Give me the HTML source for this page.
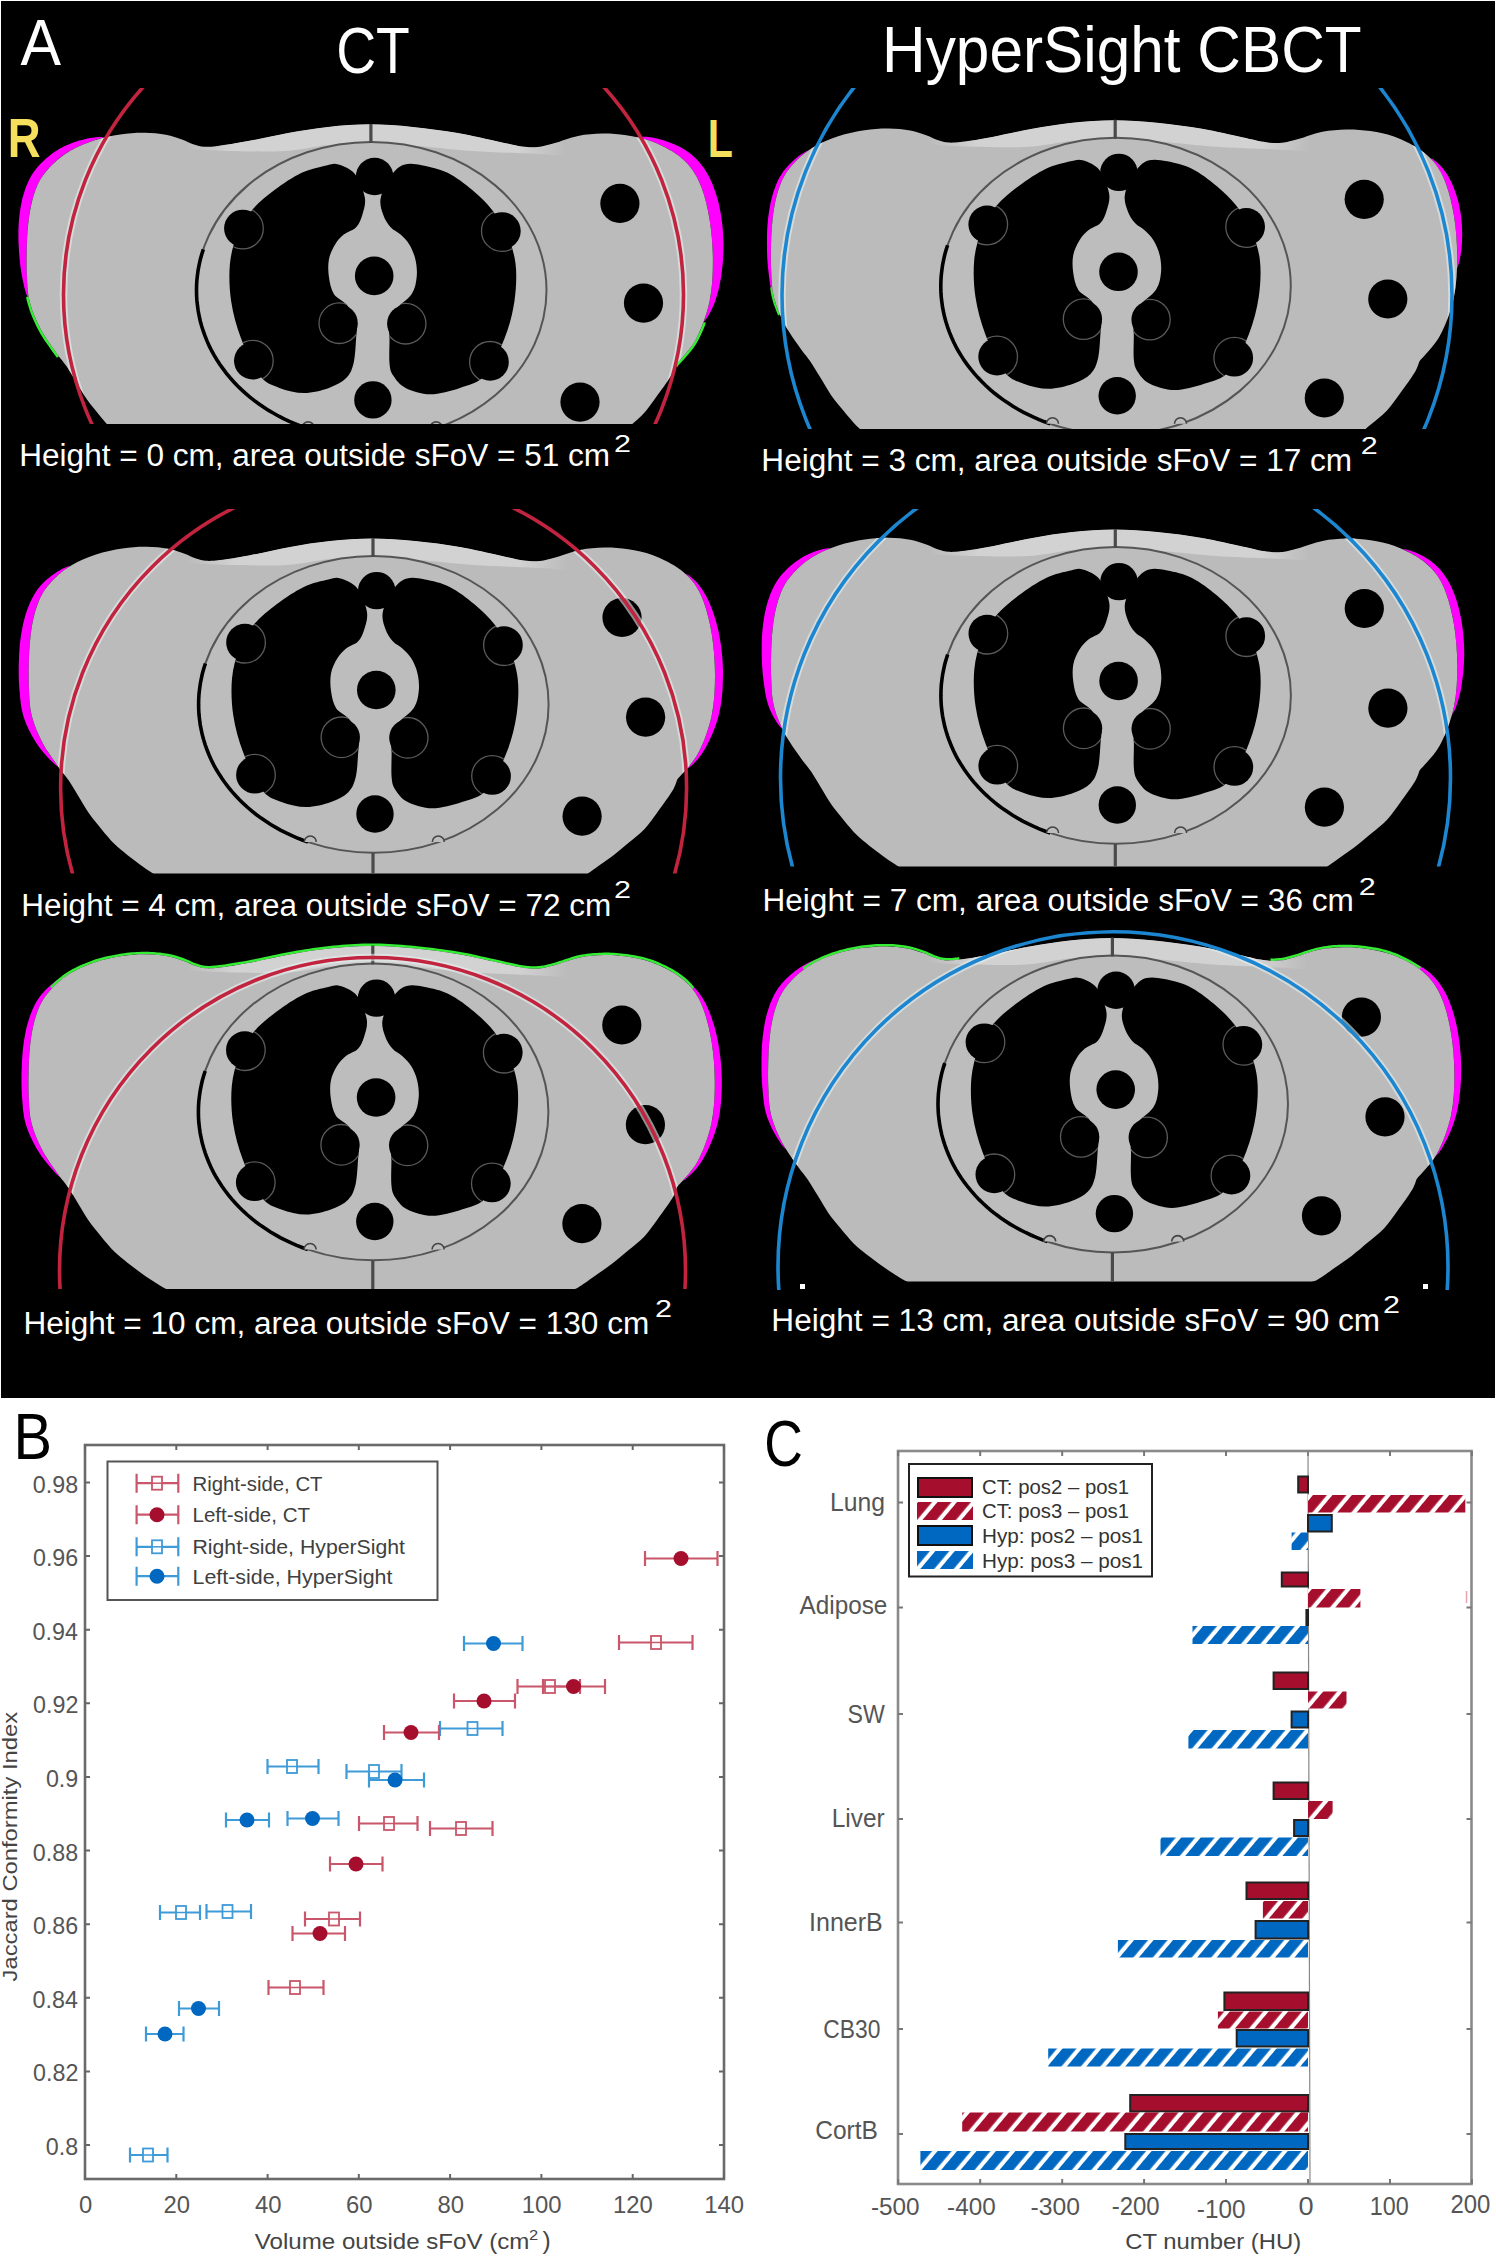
<!DOCTYPE html>
<html><head><meta charset="utf-8"><style>
html,body{margin:0;padding:0;background:#fff;width:1496px;height:2256px;overflow:hidden}
svg{position:absolute;left:0;top:0;display:block}
text{font-family:"Liberation Sans",sans-serif}
</style></head><body>
<svg width="1496" height="2256" viewBox="0 0 1496 2256">
<defs><linearGradient id="bandg" gradientUnits="userSpaceOnUse" x1="-190" y1="0" x2="192" y2="0"><stop offset="0" stop-color="#d2d2d2" stop-opacity="0"/><stop offset="0.13" stop-color="#d2d2d2" stop-opacity="1"/><stop offset="0.87" stop-color="#d2d2d2" stop-opacity="1"/><stop offset="1" stop-color="#d2d2d2" stop-opacity="0"/></linearGradient><path id="bodyp" d="M-315.3,80.5 C-318.3,76.1 -328.2,63.1 -333.1,54 C-338,44.9 -342.1,35 -344.5,26 C-346.9,17 -346.8,8.7 -347.3,0 C-347.8,-8.7 -347.7,-17.3 -347.5,-26 C-347.3,-34.7 -346.9,-43.7 -346,-52 C-345.1,-60.3 -343.8,-68.7 -341.8,-76 C-339.8,-83.3 -337.6,-89.8 -334.2,-95.8 C-330.8,-101.8 -326.3,-107.1 -321.3,-112 C-316.3,-116.9 -311.1,-121.1 -304.3,-125 C-297.5,-128.9 -288.7,-132.8 -280.3,-135.5 C-271.9,-138.2 -262.4,-140.2 -254,-141.5 C-245.6,-142.8 -237.5,-143.3 -229.9,-143.2 C-222.3,-143.2 -214.6,-142.3 -208.3,-141.2 C-202,-140.1 -197,-138.1 -192.3,-136.5 C-187.6,-134.9 -184,-132.7 -180.3,-131.5 C-176.6,-130.3 -174.3,-129.5 -170.3,-129.2 C-166.3,-129 -163.6,-129.1 -156.3,-130 C-149,-130.9 -138,-132.6 -126.3,-134.8 C-114.6,-137 -99.6,-140.6 -86.3,-143 C-73,-145.4 -60,-147.6 -46.3,-149 C-32.6,-150.4 -18.5,-151.6 -4.3,-151.6 C9.9,-151.6 24,-150.4 38.7,-149 C53.4,-147.6 69.5,-145.4 83.7,-143 C97.9,-140.6 113,-136.8 123.7,-134.5 C134.4,-132.2 141,-130.4 147.7,-129.5 C154.4,-128.6 158.3,-128.5 163.7,-129 C169.1,-129.5 173.2,-130.9 179.9,-132.7 C186.6,-134.5 195.9,-138.4 203.9,-140 C211.9,-141.6 220,-142.3 228,-142.4 C236,-142.5 244,-141.9 252,-140.7 C260,-139.5 268.1,-138 276.1,-135.1 C284.1,-132.2 293.5,-127.5 300.2,-123.1 C306.9,-118.7 311.6,-114.6 316.2,-108.7 C320.8,-102.8 324.3,-96.6 327.5,-87.8 C330.7,-79 333.6,-67.7 335.5,-55.7 C337.4,-43.7 338.7,-29.2 338.7,-15.6 C338.7,-2 338.2,12.6 335.3,25.9 C332.4,39.2 327.1,53.4 321.4,64 C315.7,74.6 304.4,85.2 301,89.4 C300.2,91.3 299.2,95.7 296,101 C292.8,106.3 286.6,114.7 282,121 C277.4,127.3 273.3,133.6 268.3,138.9 C263.3,144.2 257.4,148.5 252,153 C246.7,157.5 241.9,161.8 236.2,166.1 C230.5,170.4 223.7,175 218,179 C212.3,183 205.7,187.8 202,190 C198.3,192.2 197,191.7 196,192 L-206,192 C-206.8,191.8 -208,192.5 -211,191 C-214,189.5 -219.8,185.8 -224,183 C-228.2,180.2 -232.2,177.4 -236.4,174.4 C-240.6,171.4 -244.8,168.4 -249,165 C-253.2,161.6 -257.5,158.4 -261.8,154.1 C-266.1,149.8 -270.8,144.1 -275,139 C-279.2,133.9 -283.4,129.1 -287.2,123.6 C-291,118.1 -294.6,111.5 -298,106 C-301.4,100.5 -304.6,94.8 -307.5,90.6 C-310.4,86.3 -314,82.2 -315.3,80.5Z"/><path id="bodyp2" d="M-315.3,80.5 C-318.3,76.1 -328.2,63.1 -333.1,54 C-338,44.9 -342.1,35 -344.5,26 C-346.9,17 -346.8,8.7 -347.3,0 C-347.8,-8.7 -347.7,-17.3 -347.5,-26 C-347.3,-34.7 -346.9,-43.7 -346,-52 C-345.1,-60.3 -343.8,-68.7 -341.8,-76 C-339.8,-83.3 -337.6,-89.8 -334.2,-95.8 C-330.8,-101.8 -326.3,-107.1 -321.3,-112 C-316.3,-116.9 -311.1,-121.1 -304.3,-125 C-297.5,-128.9 -288.7,-132.8 -280.3,-135.5 C-271.9,-138.2 -262.4,-140.2 -254,-141.5 C-245.6,-142.8 -237.5,-143.3 -229.9,-143.2 C-222.3,-143.2 -214.6,-142.3 -208.3,-141.2 C-202,-140.1 -197,-138.1 -192.3,-136.5 C-187.6,-134.9 -184,-132.7 -180.3,-131.5 C-176.6,-130.3 -174.3,-129.5 -170.3,-129.2 C-166.3,-129 -163.6,-129.1 -156.3,-130 C-149,-130.9 -138,-132.6 -126.3,-134.8 C-114.6,-137 -99.6,-140.6 -86.3,-143 C-73,-145.4 -60,-147.6 -46.3,-149 C-32.6,-150.4 -18.5,-151.6 -4.3,-151.6 C9.9,-151.6 24,-150.4 38.7,-149 C53.4,-147.6 69.5,-145.4 83.7,-143 C97.9,-140.6 113,-136.8 123.7,-134.5 C134.4,-132.2 141,-130.4 147.7,-129.5 C154.4,-128.6 158.3,-128.5 163.7,-129 C169.1,-129.5 173.2,-130.9 179.9,-132.7 C186.6,-134.5 195.9,-138.4 203.9,-140 C211.9,-141.6 220,-142.3 228,-142.4 C236,-142.5 244,-141.9 252,-140.7 C260,-139.5 268.1,-138 276.1,-135.1 C284.1,-132.2 293.5,-127.5 300.2,-123.1 C306.9,-118.7 311.6,-114.6 316.2,-108.7 C320.8,-102.8 324.3,-96.6 327.5,-87.8 C330.7,-79 333.6,-67.7 335.5,-55.7 C337.4,-43.7 338.7,-29.2 338.7,-15.6 C338.7,-2 338.2,12.6 335.3,25.9 C332.4,39.2 327.1,53.4 321.4,64 C315.7,74.6 304.4,85.2 301,89.4 C300.2,91.3 299.2,95.7 296,101 C292.8,106.3 286.6,114.7 282,121 C277.4,127.3 273.3,133.6 268.3,138.9 C263.3,144.2 257.4,148.5 252,153 C246.7,157.5 241.9,161.8 236.2,166.1 C230.5,170.4 223.7,175 218,179 C212.3,183 205.7,187.8 202,190 C198.3,192.2 197,191.7 196,192 L-206,192 C-206.8,191.8 -208,192.5 -211,191 C-214,189.5 -219.8,185.8 -224,183 C-228.2,180.2 -232.2,177.4 -236.4,174.4 C-240.6,171.4 -244.8,168.4 -249,165 C-253.2,161.6 -257.5,158.4 -261.8,154.1 C-266.1,149.8 -270.8,144.1 -275,139 C-279.2,133.9 -283.4,129.1 -287.2,123.6 C-291,118.1 -294.6,111.5 -298,106 C-301.4,100.5 -304.6,94.8 -307.5,90.6 C-310.4,86.3 -314,82.2 -315.3,80.5Z"/><clipPath id="lungclip"><path d="M-35.8,-111.5 C-31.1,-110.1 -23.7,-107.5 -19.3,-102 C-14.9,-96.5 -10.6,-85.2 -9.4,-78.4 C-8.2,-71.6 -10.5,-65.9 -11.9,-61 C-13.4,-56.1 -15,-52 -18.1,-48.7 C-21.2,-45.4 -27,-44.2 -30.5,-41.3 C-34,-38.4 -36.6,-35.5 -39.1,-31.4 C-41.6,-27.3 -44.3,-21.9 -45.3,-16.5 C-46.3,-11.1 -46.1,-5 -45.3,0.8 C-44.5,6.5 -43.3,13.3 -40.3,18 C-37.3,22.7 -31.1,24.5 -27.3,29 C-23.6,33.5 -19.3,39.4 -17.8,45 C-16.3,50.6 -17.6,55.6 -18.1,62.6 C-18.6,69.7 -19,80.7 -20.6,87.3 C-22.3,93.9 -23.9,98.1 -28,102.2 C-32.1,106.3 -38.3,109.5 -45.3,112 C-52.3,114.5 -61.9,117 -70.1,117 C-78.4,117 -87.4,114.9 -94.8,112 C-102.2,109.1 -108.2,107.9 -114.6,99.7 C-121,91.5 -128.4,75 -133.1,62.6 C-137.8,50.2 -141.1,37.9 -143,25.5 C-144.9,13.1 -145.3,-0.5 -144.3,-11.6 C-143.3,-22.7 -140.5,-32.2 -136.8,-41.3 C-133.1,-50.4 -128.2,-58.6 -122,-66 C-115.8,-73.4 -107.9,-79.6 -99.7,-85.8 C-91.4,-92 -81.1,-99 -72.5,-103.1 C-63.9,-107.2 -53.9,-109.1 -47.8,-110.5 C-41.7,-111.9 -40.6,-112.9 -35.8,-111.5Z"/><path d="M30.7,-111.5 C35.8,-112.9 41.6,-111.9 48.7,-110.5 C55.8,-109.1 65.2,-107.2 73.4,-103.1 C81.6,-99 90.7,-92 98.1,-85.8 C105.5,-79.6 112.1,-73.4 117.9,-66 C123.7,-58.6 128.8,-50.4 132.7,-41.3 C136.6,-32.2 140.2,-22.7 141.4,-11.6 C142.7,-0.5 142,13.1 140.2,25.5 C138.3,37.9 135.2,50.2 130.3,62.6 C125.4,75 117.9,91.5 110.5,99.7 C103.1,107.9 94.8,108.9 85.7,112 C76.6,115.1 65.1,118.3 56.1,118.3 C47,118.3 37.6,115.1 31.4,112 C25.2,108.9 21.7,103.8 19,99.7 C16.3,95.6 15.9,93.5 15.3,87.3 C14.7,81.1 15.4,69.5 15.3,62.6 C15.2,55.7 13.8,50.8 14.7,46 C15.6,41.2 16.9,38.7 20.7,34 C24.5,29.3 33.9,23.5 37.5,18 C41.1,12.5 41.9,6.5 42.5,0.8 C43.1,-5 42.4,-11.1 41.2,-16.5 C40,-21.9 37.6,-27.3 35.1,-31.4 C32.6,-35.5 29.5,-38.4 26.4,-41.3 C23.3,-44.2 19.4,-45.4 16.5,-48.7 C13.6,-52 10.7,-56.1 9.1,-61 C7.4,-65.9 5.1,-71.6 6.6,-78.4 C8.1,-85.2 14.2,-96.5 18.2,-102 C22.2,-107.5 25.6,-110.1 30.7,-111.5Z"/></clipPath><clipPath id="bodyclip"><path d="M-315.3,80.5 C-318.3,76.1 -328.2,63.1 -333.1,54 C-338,44.9 -342.1,35 -344.5,26 C-346.9,17 -346.8,8.7 -347.3,0 C-347.8,-8.7 -347.7,-17.3 -347.5,-26 C-347.3,-34.7 -346.9,-43.7 -346,-52 C-345.1,-60.3 -343.8,-68.7 -341.8,-76 C-339.8,-83.3 -337.6,-89.8 -334.2,-95.8 C-330.8,-101.8 -326.3,-107.1 -321.3,-112 C-316.3,-116.9 -311.1,-121.1 -304.3,-125 C-297.5,-128.9 -288.7,-132.8 -280.3,-135.5 C-271.9,-138.2 -262.4,-140.2 -254,-141.5 C-245.6,-142.8 -237.5,-143.3 -229.9,-143.2 C-222.3,-143.2 -214.6,-142.3 -208.3,-141.2 C-202,-140.1 -197,-138.1 -192.3,-136.5 C-187.6,-134.9 -184,-132.7 -180.3,-131.5 C-176.6,-130.3 -174.3,-129.5 -170.3,-129.2 C-166.3,-129 -163.6,-129.1 -156.3,-130 C-149,-130.9 -138,-132.6 -126.3,-134.8 C-114.6,-137 -99.6,-140.6 -86.3,-143 C-73,-145.4 -60,-147.6 -46.3,-149 C-32.6,-150.4 -18.5,-151.6 -4.3,-151.6 C9.9,-151.6 24,-150.4 38.7,-149 C53.4,-147.6 69.5,-145.4 83.7,-143 C97.9,-140.6 113,-136.8 123.7,-134.5 C134.4,-132.2 141,-130.4 147.7,-129.5 C154.4,-128.6 158.3,-128.5 163.7,-129 C169.1,-129.5 173.2,-130.9 179.9,-132.7 C186.6,-134.5 195.9,-138.4 203.9,-140 C211.9,-141.6 220,-142.3 228,-142.4 C236,-142.5 244,-141.9 252,-140.7 C260,-139.5 268.1,-138 276.1,-135.1 C284.1,-132.2 293.5,-127.5 300.2,-123.1 C306.9,-118.7 311.6,-114.6 316.2,-108.7 C320.8,-102.8 324.3,-96.6 327.5,-87.8 C330.7,-79 333.6,-67.7 335.5,-55.7 C337.4,-43.7 338.7,-29.2 338.7,-15.6 C338.7,-2 338.2,12.6 335.3,25.9 C332.4,39.2 327.1,53.4 321.4,64 C315.7,74.6 304.4,85.2 301,89.4 C300.2,91.3 299.2,95.7 296,101 C292.8,106.3 286.6,114.7 282,121 C277.4,127.3 273.3,133.6 268.3,138.9 C263.3,144.2 257.4,148.5 252,153 C246.7,157.5 241.9,161.8 236.2,166.1 C230.5,170.4 223.7,175 218,179 C212.3,183 205.7,187.8 202,190 C198.3,192.2 197,191.7 196,192 L-206,192 C-206.8,191.8 -208,192.5 -211,191 C-214,189.5 -219.8,185.8 -224,183 C-228.2,180.2 -232.2,177.4 -236.4,174.4 C-240.6,171.4 -244.8,168.4 -249,165 C-253.2,161.6 -257.5,158.4 -261.8,154.1 C-266.1,149.8 -270.8,144.1 -275,139 C-279.2,133.9 -283.4,129.1 -287.2,123.6 C-291,118.1 -294.6,111.5 -298,106 C-301.4,100.5 -304.6,94.8 -307.5,90.6 C-310.4,86.3 -314,82.2 -315.3,80.5Z"/></clipPath><pattern id="hr" patternUnits="userSpaceOnUse" width="14.9" height="40" patternTransform="rotate(40)"><rect width="14.9" height="40" fill="#a50f2d"/><rect x="10.7" width="4.2" height="40" fill="#fff"/></pattern><pattern id="hb" patternUnits="userSpaceOnUse" width="14.9" height="40" patternTransform="rotate(40)"><rect width="14.9" height="40" fill="#0068c0"/><rect x="10.7" width="4.2" height="40" fill="#fff"/></pattern><g id="phin"><path d="M-186.3,-133 C-183.6,-132.4 -175.3,-129.7 -170.3,-129.2 C-165.3,-128.7 -163.6,-129.1 -156.3,-130 C-149,-130.9 -138,-132.6 -126.3,-134.8 C-114.6,-137 -99.6,-140.6 -86.3,-143 C-73,-145.4 -60,-147.6 -46.3,-149 C-32.6,-150.4 -18.5,-151.6 -4.3,-151.6 C9.9,-151.6 24,-150.4 38.7,-149 C53.4,-147.6 69.5,-145.4 83.7,-143 C97.9,-140.6 113,-136.8 123.7,-134.5 C134.4,-132.2 141,-130.4 147.7,-129.5 C154.4,-128.6 158.3,-128.5 163.7,-129 C169.1,-129.5 175.6,-131.5 179.9,-132.7 C184.2,-133.9 188.1,-135.5 189.7,-136 L189.7,-120 C185.4,-120.3 179,-121.2 163.7,-122 C148.4,-122.8 117.7,-123.7 97.7,-125 C77.7,-126.3 60.5,-128.6 43.7,-130 C26.9,-131.4 11.7,-133.3 -3.3,-133.5 C-18.3,-133.7 -32,-132.4 -46.3,-131 C-60.6,-129.6 -72.6,-126 -89.3,-125 C-106,-124 -130.1,-124.7 -146.3,-125 C-162.5,-125.3 -179.6,-126.7 -186.3,-127Z" fill="url(#bandg)" clip-path="url(#bodyclip)"/><ellipse cx="-2.7" cy="14.4" rx="175" ry="148.4" fill="#bdbdbd" stroke="#555" stroke-width="2"/><path d="M-68.3,152 L-73.9,150 L-79.4,147.8 L-84.9,145.4 L-90.2,142.9 L-95.4,140.3 L-100.6,137.4 L-105.6,134.5 L-110.4,131.3 L-115.2,128.1 L-119.8,124.7 L-124.3,121.2 L-128.6,117.5 L-132.8,113.7 L-136.8,109.8 L-140.6,105.8 L-144.3,101.6 L-147.8,97.4 L-151.1,93 L-154.3,88.6 L-157.2,84.1 L-160,79.5 L-162.6,74.8 L-165,70 L-167.1,65.2 L-169.1,60.3 L-170.9,55.3 L-172.5,50.3 L-173.9,45.3 L-175,40.2 L-176,35.1 L-176.7,29.9 L-177.3,24.8 L-177.6,19.6 L-177.7,14.4 L-177.6,9.2 L-177.3,4 L-176.7,-1.1 L-176,-6.3 L-175,-11.4 L-173.9,-16.5 L-172.5,-21.5 L-170.9,-26.5" fill="none" stroke="#000" stroke-width="3.6"/><path d="M-35.8,-111.5 C-31.1,-110.1 -23.7,-107.5 -19.3,-102 C-14.9,-96.5 -10.6,-85.2 -9.4,-78.4 C-8.2,-71.6 -10.5,-65.9 -11.9,-61 C-13.4,-56.1 -15,-52 -18.1,-48.7 C-21.2,-45.4 -27,-44.2 -30.5,-41.3 C-34,-38.4 -36.6,-35.5 -39.1,-31.4 C-41.6,-27.3 -44.3,-21.9 -45.3,-16.5 C-46.3,-11.1 -46.1,-5 -45.3,0.8 C-44.5,6.5 -43.3,13.3 -40.3,18 C-37.3,22.7 -31.1,24.5 -27.3,29 C-23.6,33.5 -19.3,39.4 -17.8,45 C-16.3,50.6 -17.6,55.6 -18.1,62.6 C-18.6,69.7 -19,80.7 -20.6,87.3 C-22.3,93.9 -23.9,98.1 -28,102.2 C-32.1,106.3 -38.3,109.5 -45.3,112 C-52.3,114.5 -61.9,117 -70.1,117 C-78.4,117 -87.4,114.9 -94.8,112 C-102.2,109.1 -108.2,107.9 -114.6,99.7 C-121,91.5 -128.4,75 -133.1,62.6 C-137.8,50.2 -141.1,37.9 -143,25.5 C-144.9,13.1 -145.3,-0.5 -144.3,-11.6 C-143.3,-22.7 -140.5,-32.2 -136.8,-41.3 C-133.1,-50.4 -128.2,-58.6 -122,-66 C-115.8,-73.4 -107.9,-79.6 -99.7,-85.8 C-91.4,-92 -81.1,-99 -72.5,-103.1 C-63.9,-107.2 -53.9,-109.1 -47.8,-110.5 C-41.7,-111.9 -40.6,-112.9 -35.8,-111.5Z" fill="#000"/><path d="M30.7,-111.5 C35.8,-112.9 41.6,-111.9 48.7,-110.5 C55.8,-109.1 65.2,-107.2 73.4,-103.1 C81.6,-99 90.7,-92 98.1,-85.8 C105.5,-79.6 112.1,-73.4 117.9,-66 C123.7,-58.6 128.8,-50.4 132.7,-41.3 C136.6,-32.2 140.2,-22.7 141.4,-11.6 C142.7,-0.5 142,13.1 140.2,25.5 C138.3,37.9 135.2,50.2 130.3,62.6 C125.4,75 117.9,91.5 110.5,99.7 C103.1,107.9 94.8,108.9 85.7,112 C76.6,115.1 65.1,118.3 56.1,118.3 C47,118.3 37.6,115.1 31.4,112 C25.2,108.9 21.7,103.8 19,99.7 C16.3,95.6 15.9,93.5 15.3,87.3 C14.7,81.1 15.4,69.5 15.3,62.6 C15.2,55.7 13.8,50.8 14.7,46 C15.6,41.2 16.9,38.7 20.7,34 C24.5,29.3 33.9,23.5 37.5,18 C41.1,12.5 41.9,6.5 42.5,0.8 C43.1,-5 42.4,-11.1 41.2,-16.5 C40,-21.9 37.6,-27.3 35.1,-31.4 C32.6,-35.5 29.5,-38.4 26.4,-41.3 C23.3,-44.2 19.4,-45.4 16.5,-48.7 C13.6,-52 10.7,-56.1 9.1,-61 C7.4,-65.9 5.1,-71.6 6.6,-78.4 C8.1,-85.2 14.2,-96.5 18.2,-102 C22.2,-107.5 25.6,-110.1 30.7,-111.5Z" fill="#000"/><g clip-path="url(#lungclip)"><circle cx="-131.4" cy="-47.5" r="20.5" fill="none" stroke="#5a5a5a" stroke-width="1.3"/><circle cx="127.8" cy="-45" r="20.5" fill="none" stroke="#5a5a5a" stroke-width="1.3"/><circle cx="-121.5" cy="84.9" r="20.5" fill="none" stroke="#5a5a5a" stroke-width="1.3"/><circle cx="115.9" cy="86.1" r="20.5" fill="none" stroke="#5a5a5a" stroke-width="1.3"/><circle cx="-34.9" cy="47.3" r="20.3" fill="none" stroke="#5a5a5a" stroke-width="1.3"/><circle cx="31.4" cy="47.8" r="20.3" fill="none" stroke="#5a5a5a" stroke-width="1.3"/></g><circle cx="0.4" cy="-99.4" r="18.7" fill="#000"/><circle cx="0" cy="0" r="19.3" fill="#000"/><circle cx="-1.3" cy="124" r="18.7" fill="#000"/><circle cx="-131.4" cy="-47.5" r="18.7" fill="#000"/><circle cx="127.8" cy="-45" r="18.7" fill="#000"/><circle cx="-121.5" cy="84.9" r="18.7" fill="#000"/><circle cx="115.9" cy="86.1" r="18.7" fill="#000"/><circle cx="-34.9" cy="47.3" r="18.5" fill="#000"/><circle cx="31.4" cy="47.8" r="18.5" fill="#000"/><circle cx="245.7" cy="-72.5" r="19.6" fill="#000"/><circle cx="269.3" cy="27.2" r="19.6" fill="#000"/><circle cx="205.8" cy="126.2" r="19.6" fill="#000"/><path d="M-72,152 a6,6 0 0 1 12,0" fill="#bdbdbd" stroke="#444" stroke-width="1.6"/><path d="M56,152 a6,6 0 0 1 12,0" fill="#bdbdbd" stroke="#444" stroke-width="1.6"/><path d="M-3.3,-152 V-133 M-3.3,163 V192" stroke="#4a4a4a" stroke-width="3.2"/></g><g id="ph"><use href="#bodyp" fill="#bbbbbb"/><use href="#phin"/></g><g id="ph2"><use href="#bodyp2" fill="#bbbbbb"/><use href="#phin"/></g></defs><rect x="1" y="1" width="1494" height="1397" fill="#000"/><clipPath id="cp0"><rect x="1" y="88" width="746" height="336"/></clipPath><g clip-path="url(#cp0)"><path d="M29.1,299.2 L28.5,296.6 L28.1,294 L27.8,291.4 L27.6,288.8 L27.4,286.2 L27.3,283.6 L27.2,281.1 L27,278.5 L26.9,275.9 L26.8,273.3 L26.7,270.7 L26.6,268.1 L26.6,265.5 L26.5,262.9 L26.5,260.3 L26.6,257.7 L26.6,255.1 L26.6,252.5 L26.7,249.9 L26.8,247.3 L26.8,244.7 L26.9,242 L27,239.4 L27.2,236.8 L27.3,234.2 L27.5,231.6 L27.7,229 L27.9,226.4 L28.2,223.9 L28.5,221.4 L28.8,218.9 L29.2,216.4 L29.5,214 L29.9,211.5 L30.3,209.1 L30.8,206.7 L31.3,204.4 L31.8,202.1 L32.4,199.9 L33,197.7 L33.6,195.6 L34.3,193.5 L34.9,191.5 L35.7,189.5 L36.4,187.6 L37.2,185.6 L38.1,183.8 L39,181.9 L40,180.1 L41.1,178.3 L42.2,176.6 L43.4,174.9 L44.6,173.2 L45.9,171.6 L47.2,170 L48.6,168.4 L50,166.9 L51.4,165.4 L52.9,163.9 L54.4,162.5 L55.9,161.1 L57.5,159.7 L59.1,158.3 L60.7,157 L62.4,155.8 L64.2,154.5 L66,153.3 L67.9,152.1 L69.9,150.9 L72,149.7 L74.2,148.6 L76.5,147.4 L78.9,146.3 L81.3,145.2 L83.8,144.2 L86.3,143.1 L88.8,142.2 L91.4,141.3 L93.9,140.4 L96.4,139.6 L99,138.8 L101.7,138.1 L104.4,137.5 L104.4,137.5 L101.4,137.1 L98.6,137.1 L95.8,137.3 L93,137.7 L90.3,138.1 L87.5,138.6 L84.8,139.2 L82,139.9 L79.3,140.6 L76.6,141.4 L74,142.3 L71.5,143.2 L69,144.2 L66.6,145.2 L64.3,146.3 L62.1,147.4 L60,148.5 L58,149.7 L56,151 L54.1,152.3 L52.2,153.6 L50.4,155 L48.7,156.4 L47,157.8 L45.2,159.3 L43.6,160.9 L41.9,162.4 L40.3,164.1 L38.7,165.8 L37.2,167.6 L35.7,169.4 L34.3,171.3 L32.9,173.3 L31.6,175.3 L30.4,177.4 L29.3,179.5 L28.2,181.7 L27.3,183.9 L26.4,186 L25.5,188.3 L24.8,190.5 L24.1,192.7 L23.4,195 L22.7,197.3 L22.1,199.7 L21.6,202.2 L21.1,204.8 L20.6,207.3 L20.2,209.9 L19.8,212.4 L19.5,215 L19.2,217.6 L19,220.2 L18.8,222.8 L18.6,225.5 L18.5,228.2 L18.4,230.9 L18.4,233.6 L18.4,236.3 L18.4,239 L18.5,241.7 L18.6,244.4 L18.8,247.1 L18.9,249.7 L19.1,252.3 L19.3,255 L19.5,257.6 L19.7,260.3 L20,262.9 L20.3,265.6 L20.7,268.2 L21.1,270.9 L21.5,273.5 L22,276.2 L22.5,278.7 L23,281.3 L23.6,283.8 L24.1,286.4 L24.8,289 L25.5,291.6 L26.4,294.2 L27.5,296.8 L29.1,299.2Z" fill="#ff00ff"/><path d="M638.2,137.4 L640.7,137.9 L643.1,138.5 L645.5,139.2 L647.9,140 L650.3,140.8 L652.7,141.7 L655.2,142.8 L657.8,143.9 L660.3,145 L662.9,146.2 L665.3,147.5 L667.8,148.8 L670.1,150.1 L672.3,151.5 L674.4,152.8 L676.3,154.1 L678.2,155.4 L679.9,156.7 L681.6,158.1 L683.2,159.4 L684.7,160.9 L686.2,162.3 L687.6,163.9 L689,165.5 L690.4,167.2 L691.7,169 L693,170.8 L694.2,172.6 L695.4,174.6 L696.5,176.5 L697.6,178.6 L698.7,180.8 L699.7,183.1 L700.7,185.5 L701.7,188.1 L702.7,190.8 L703.6,193.7 L704.5,196.7 L705.4,199.7 L706.2,202.9 L707,206.2 L707.8,209.6 L708.5,213.1 L709.1,216.6 L709.7,220.2 L710.2,223.9 L710.8,227.7 L711.2,231.6 L711.6,235.6 L712,239.7 L712.3,243.8 L712.6,247.9 L712.8,252.1 L712.9,256.2 L712.9,260.3 L712.9,264.4 L712.8,268.6 L712.7,272.8 L712.5,277 L712.3,281.2 L711.9,285.4 L711.5,289.6 L711,293.7 L710.3,297.8 L709.5,301.8 L708.6,305.8 L707.5,309.8 L706.3,313.9 L705,317.9 L703.6,321.9 L703.6,321.9 L706.6,318.4 L708.9,314.7 L711,310.8 L712.8,306.9 L714.5,302.9 L715.9,298.8 L717.2,294.6 L718.4,290.4 L719.4,286.1 L720.2,281.7 L721,277.4 L721.6,273.1 L722.1,268.8 L722.6,264.5 L723,260.3 L723.2,256 L723.4,251.7 L723.5,247.3 L723.5,243 L723.3,238.7 L723.1,234.5 L722.8,230.3 L722.5,226.2 L722,222.2 L721.5,218.4 L720.9,214.6 L720.2,210.8 L719.5,207.1 L718.7,203.5 L717.8,200 L716.8,196.6 L715.8,193.3 L714.7,190.2 L713.6,187.1 L712.5,184.2 L711.3,181.4 L710,178.7 L708.7,176.1 L707.4,173.7 L706,171.4 L704.6,169.1 L703.1,167 L701.5,165 L699.9,163 L698.3,161.1 L696.5,159.3 L694.8,157.5 L692.9,155.8 L691.1,154.2 L689.2,152.8 L687.2,151.4 L685.2,150 L683.1,148.7 L680.9,147.5 L678.6,146.3 L676.2,145.2 L673.7,144 L671,142.9 L668.3,141.9 L665.5,141 L662.7,140.1 L659.8,139.3 L657,138.5 L654.2,137.9 L651.5,137.4 L648.8,137.1 L646.2,136.8 L643.6,136.7 L640.9,136.8 L638.2,137.4Z" fill="#ff00ff"/><path d="M58.9,356.4 L57.8,354.8 L56.4,352.8 L54.7,350.4 L52.8,347.8 L50.7,344.9 L48.6,341.9 L46.5,338.8 L44.5,335.7 L42.7,332.7 L41.1,329.9 L39.7,327.2 L38.3,324.4 L36.9,321.5 L35.7,318.7 L34.5,315.9 L33.3,313 L32.3,310.2 L31.3,307.4 L30.5,304.6 L29.7,301.9 L29.1,299.2 L28.5,296.6 L26.1,297 L26.6,299.7 L27.3,302.5 L28.1,305.3 L29,308.2 L29.9,311 L31,313.9 L32.1,316.8 L33.4,319.7 L34.7,322.6 L36,325.5 L37.4,328.3 L38.9,331.1 L40.5,334 L42.4,337.1 L44.4,340.2 L46.6,343.3 L48.7,346.3 L50.7,349.2 L52.6,351.9 L54.3,354.3 L55.8,356.3 L56.8,357.8Z" fill="#33ee33"/><path d="M703.6,321.9 L702.1,325.7 L700.6,329.5 L699,333.1 L697.3,336.6 L695.6,339.9 L693.7,343.1 L691.6,346.2 L689.3,349.3 L686.9,352.2 L684.5,355 L682.2,357.6 L680,359.9 L678.1,362 L676.4,363.8 L675.2,365.3 L677.1,366.9 L678.3,365.5 L679.9,363.7 L681.9,361.6 L684.1,359.3 L686.4,356.6 L688.8,353.8 L691.3,350.8 L693.6,347.7 L695.8,344.4 L697.8,341.1 L699.5,337.7 L701.2,334.2 L702.9,330.5 L704.5,326.7 L705.9,322.7Z" fill="#33ee33"/><use href="#ph2" transform="translate(374.2,275.9)"/><g transform="translate(374.2,275.9)" clip-path="url(#bodyclip)"><circle cx="-0.7" cy="18.6" r="310" fill="none" stroke="#e6eeee" stroke-opacity="0.6" stroke-width="7.5"/></g><circle cx="373.5" cy="294.5" r="310" fill="none" stroke="#c2243f" stroke-width="3.6"/></g><clipPath id="cp1"><rect x="749" y="88" width="746" height="341"/></clipPath><g clip-path="url(#cp1)"><path d="M774,297.8 L773.4,295.1 L772.8,292.5 L772.4,289.9 L772.1,287.3 L771.9,284.7 L771.7,282.1 L771.6,279.5 L771.5,277 L771.3,274.4 L771.2,271.8 L771.1,269.2 L771,266.6 L770.9,264 L770.9,261.4 L770.8,258.8 L770.8,256.2 L770.9,253.6 L770.9,251 L770.9,248.4 L771,245.8 L771.1,243.2 L771.1,240.6 L771.2,237.9 L771.3,235.3 L771.5,232.7 L771.6,230.1 L771.8,227.5 L772,224.9 L772.2,222.3 L772.5,219.8 L772.8,217.3 L773.1,214.8 L773.5,212.3 L773.8,209.9 L774.2,207.4 L774.6,205 L775.1,202.6 L775.6,200.3 L776.1,198 L776.7,195.8 L777.3,193.6 L777.9,191.5 L778.6,189.4 L779.2,187.4 L780,185.4 L780.7,183.5 L781.5,181.5 L782.4,179.7 L783.3,177.8 L784.3,176 L785.4,174.2 L786.5,172.5 L787.7,170.8 L788.9,169.1 L790.2,167.5 L791.5,165.9 L792.9,164.3 L794.3,162.8 L795.7,161.3 L797.2,159.8 L798.7,158.4 L800.2,157 L801.8,155.6 L803.4,154.2 L805,152.9 L806.7,151.7 L808.5,150.4 L808.5,150.4 L806.4,151.3 L804.5,152.3 L802.7,153.4 L800.9,154.6 L799.2,155.8 L797.5,157.1 L795.9,158.5 L794.3,159.8 L792.7,161.3 L791.1,162.7 L789.6,164.2 L788.1,165.8 L786.6,167.4 L785.3,169.1 L783.9,170.8 L782.6,172.5 L781.4,174.4 L780.3,176.2 L779.2,178.1 L778.2,180.1 L777.3,182.1 L776.4,184.1 L775.6,186.1 L774.8,188.2 L774,190.3 L773.3,192.5 L772.7,194.7 L772,197 L771.4,199.4 L770.8,201.8 L770.3,204.2 L769.9,206.7 L769.4,209.2 L769,211.7 L768.7,214.2 L768.3,216.8 L768,219.3 L767.8,221.9 L767.5,224.5 L767.4,227.1 L767.2,229.8 L767.1,232.4 L767,235.1 L767,237.8 L767,240.4 L766.9,243.1 L767,245.7 L767,248.3 L767,250.9 L767.1,253.6 L767.2,256.2 L767.3,258.8 L767.5,261.4 L767.7,264.1 L767.9,266.7 L768.2,269.3 L768.5,271.9 L768.8,274.5 L769.1,277.1 L769.4,279.6 L769.8,282.2 L770.2,284.8 L770.6,287.4 L771.2,290 L771.9,292.6 L772.8,295.2 L774,297.8Z" fill="#ff00ff"/><path d="M1430.5,158.2 L1431.9,159.8 L1433.3,161.4 L1434.7,163.1 L1436,164.9 L1437.3,166.7 L1438.5,168.5 L1439.7,170.5 L1440.8,172.4 L1441.9,174.5 L1443,176.7 L1444,179 L1445,181.4 L1446,184 L1447,186.7 L1447.9,189.6 L1448.8,192.6 L1449.7,195.6 L1450.5,198.9 L1451.3,202.1 L1452.1,205.5 L1452.8,209 L1453.4,212.5 L1454,216.1 L1454.5,219.8 L1455.1,223.6 L1455.5,227.5 L1455.9,231.5 L1456.3,235.6 L1456.6,239.7 L1456.9,243.8 L1457.1,248 L1457.2,252.1 L1457.2,256.2 L1457.2,260.3 L1457.1,264.5 L1457,268.7 L1457,268.7 L1458.6,264.5 L1459.6,260.3 L1460.4,256.2 L1461.1,252 L1461.6,247.8 L1461.9,243.6 L1462.1,239.3 L1462.2,235.1 L1462.1,230.9 L1462,226.8 L1461.7,222.7 L1461.3,218.8 L1460.9,215 L1460.3,211.3 L1459.6,207.7 L1458.9,204.1 L1458,200.6 L1457,197.2 L1456,193.9 L1454.9,190.8 L1453.7,187.7 L1452.5,184.8 L1451.3,182.1 L1450,179.5 L1448.7,177 L1447.3,174.7 L1445.9,172.5 L1444.4,170.5 L1442.9,168.6 L1441.4,166.7 L1439.7,165 L1438.1,163.4 L1436.3,161.8 L1434.5,160.4 L1432.6,159.1 L1430.5,158.2Z" fill="#ff00ff"/><path d="M780,314.6 L778.8,311.8 L777.6,308.9 L776.6,306.1 L775.6,303.3 L774.8,300.5 L774,297.8 L773.4,295.1 L772.8,292.5 L772.4,289.9 L772.1,287.3 L770.2,287.5 L770.5,290.1 L770.9,292.8 L771.4,295.5 L772.1,298.3 L772.8,301.1 L773.7,303.9 L774.7,306.8 L775.8,309.6 L776.9,312.5 L778.1,315.4Z" fill="#33ee33"/><use href="#ph2" transform="translate(1118.5,271.8)"/><g transform="translate(1118.5,271.8)" clip-path="url(#bodyclip)"><circle cx="-1.5" cy="23.2" r="335" fill="none" stroke="#e6eeee" stroke-opacity="0.6" stroke-width="7.5"/></g><circle cx="1117" cy="295" r="335" fill="none" stroke="#1c86d0" stroke-width="3.6"/></g><clipPath id="cp2"><rect x="1" y="509" width="746" height="364.4"/></clipPath><g clip-path="url(#cp2)"><path d="M58.5,766.9 L56.8,764.5 L54.9,761.9 L52.8,759 L50.7,756 L48.6,752.9 L46.6,749.8 L44.8,746.8 L43.2,744 L41.8,741.3 L40.4,738.5 L39,735.6 L37.8,732.8 L36.6,730 L35.4,727.1 L34.4,724.3 L33.4,721.5 L32.6,718.7 L31.8,716 L31.2,713.3 L30.6,710.7 L30.2,708.1 L29.9,705.5 L29.7,702.9 L29.5,700.3 L29.4,697.7 L29.3,695.2 L29.1,692.6 L29,690 L28.9,687.4 L28.8,684.8 L28.7,682.2 L28.7,679.6 L28.6,677 L28.6,674.4 L28.7,671.8 L28.7,669.2 L28.7,666.6 L28.8,664 L28.9,661.4 L28.9,658.8 L29,656.1 L29.1,653.5 L29.3,650.9 L29.4,648.3 L29.6,645.7 L29.8,643.1 L30,640.5 L30.3,638 L30.6,635.5 L30.9,633 L31.3,630.5 L31.6,628.1 L32,625.6 L32.4,623.2 L32.9,620.8 L33.4,618.5 L33.9,616.2 L34.5,614 L35.1,611.8 L35.7,609.7 L36.4,607.6 L37,605.6 L37.8,603.6 L38.5,601.7 L39.3,599.7 L40.2,597.9 L41.1,596 L42.1,594.2 L43.2,592.4 L44.3,590.7 L45.5,589 L46.7,587.3 L48,585.7 L49.3,584.1 L50.7,582.5 L52.1,581 L53.5,579.5 L55,578 L56.5,576.6 L58,575.2 L59.6,573.8 L61.2,572.4 L62.8,571.1 L64.5,569.9 L66.3,568.6 L68.1,567.4 L70,566.2 L70,566.2 L67.6,566.6 L65.4,567.4 L63.4,568.3 L61.4,569.3 L59.5,570.4 L57.6,571.5 L55.8,572.7 L54,573.9 L52.2,575.2 L50.5,576.5 L48.8,577.9 L47.1,579.3 L45.4,580.8 L43.8,582.3 L42.2,583.9 L40.7,585.6 L39.3,587.3 L37.8,589.1 L36.5,591 L35.2,592.9 L34,594.9 L32.9,596.9 L31.8,598.9 L30.8,601 L29.9,603.1 L29,605.3 L28.1,607.4 L27.3,609.6 L26.5,611.9 L25.7,614.2 L25,616.6 L24.4,619.1 L23.7,621.6 L23.1,624.1 L22.6,626.7 L22.1,629.2 L21.6,631.8 L21.2,634.3 L20.8,636.9 L20.4,639.6 L20.1,642.3 L19.8,644.9 L19.6,647.6 L19.4,650.4 L19.2,653.1 L19.1,655.8 L19,658.4 L18.9,661.1 L18.8,663.8 L18.7,666.4 L18.7,669 L18.7,671.7 L18.7,674.4 L18.8,677 L18.8,679.7 L19,682.4 L19.1,685.1 L19.3,687.8 L19.5,690.5 L19.8,693.1 L20,695.6 L20.2,698.2 L20.5,700.9 L20.8,703.6 L21.2,706.4 L21.7,709.2 L22.4,712.1 L23.1,715.1 L24,718 L25.1,720.9 L26.2,723.9 L27.5,726.8 L28.8,729.7 L30.3,732.5 L31.8,735.4 L33.5,738.2 L35.1,741 L36.9,743.7 L38.7,746.4 L40.8,749.2 L43.1,752.1 L45.6,754.9 L48.1,757.7 L50.8,760.4 L53.4,762.9 L55.9,765.2 L58.5,766.9Z" fill="#ff00ff"/><path d="M685.3,573.5 L686.8,575 L688.3,576.4 L689.7,578 L691.1,579.6 L692.5,581.3 L693.8,583.1 L695.1,584.9 L696.3,586.7 L697.5,588.7 L698.7,590.6 L699.7,592.7 L700.8,594.9 L701.8,597.2 L702.8,599.6 L703.8,602.2 L704.8,604.9 L705.7,607.8 L706.6,610.8 L707.5,613.8 L708.3,617 L709.1,620.3 L709.9,623.7 L710.6,627.2 L711.2,630.7 L711.8,634.3 L712.3,638 L712.9,641.8 L713.3,645.7 L713.7,649.7 L714.1,653.8 L714.4,657.9 L714.7,662 L714.9,666.2 L715,670.3 L715,674.4 L715,678.5 L714.9,682.7 L714.8,686.9 L714.6,691.1 L714.4,695.3 L714,699.5 L713.6,703.7 L713.1,707.8 L712.4,711.9 L711.6,715.9 L710.7,719.9 L709.6,723.9 L708.4,728 L707.1,732 L705.7,736 L704.2,739.8 L702.7,743.6 L701.1,747.2 L699.4,750.7 L697.7,754 L695.8,757.2 L693.7,760.3 L691.4,763.4 L689,766.3 L686.6,769.1 L686.6,769.1 L689.8,767 L692.8,764.4 L695.6,761.6 L698.2,758.7 L700.6,755.6 L702.7,752.4 L704.8,749 L706.8,745.4 L708.8,741.6 L710.6,737.8 L712.4,733.8 L714,729.7 L715.6,725.6 L716.9,721.5 L718.2,717.3 L719.2,713.1 L720.1,708.8 L720.9,704.5 L721.5,700.2 L722,695.8 L722.4,691.5 L722.6,687.1 L722.8,682.8 L722.9,678.6 L723,674.4 L723,670.2 L722.8,665.9 L722.6,661.6 L722.3,657.3 L721.9,653.1 L721.4,648.9 L720.9,644.8 L720.2,640.8 L719.6,637 L718.9,633.2 L718.1,629.5 L717.2,625.9 L716.3,622.4 L715.3,618.9 L714.2,615.6 L713.1,612.3 L712,609.2 L710.8,606.2 L709.6,603.3 L708.4,600.5 L707.1,597.9 L705.9,595.5 L704.5,593.2 L703.2,591 L701.8,588.9 L700.4,586.9 L698.9,585.1 L697.4,583.3 L695.9,581.6 L694.2,579.9 L692.6,578.4 L690.9,576.9 L689.1,575.6 L687.3,574.4 L685.3,573.5Z" fill="#ff00ff"/><use href="#ph" transform="translate(376.3,690)"/><g transform="translate(376.3,690)" clip-path="url(#bodyclip)"><circle cx="-2.7" cy="98" r="313" fill="none" stroke="#e6eeee" stroke-opacity="0.6" stroke-width="7.5"/></g><circle cx="373.6" cy="788" r="313" fill="none" stroke="#c2243f" stroke-width="3.6"/></g><clipPath id="cp3"><rect x="749" y="509" width="746" height="357.5"/></clipPath><g clip-path="url(#cp3)"><path d="M782.7,729.5 L781.3,726.6 L780.1,723.8 L778.9,721 L777.7,718.1 L776.7,715.3 L775.7,712.5 L774.9,709.7 L774.1,707 L773.5,704.3 L772.9,701.7 L772.5,699.1 L772.2,696.5 L772,693.9 L771.8,691.3 L771.7,688.7 L771.6,686.2 L771.4,683.6 L771.3,681 L771.2,678.4 L771.1,675.8 L771,673.2 L771,670.6 L770.9,668 L770.9,665.4 L771,662.8 L771,660.2 L771,657.6 L771.1,655 L771.2,652.4 L771.2,649.8 L771.3,647.1 L771.4,644.5 L771.6,641.9 L771.7,639.3 L771.9,636.7 L772.1,634.1 L772.3,631.5 L772.6,629 L772.9,626.5 L773.2,624 L773.6,621.5 L773.9,619.1 L774.3,616.6 L774.7,614.2 L775.2,611.8 L775.7,609.5 L776.2,607.2 L776.8,605 L777.4,602.8 L778,600.7 L778.7,598.6 L779.3,596.6 L780.1,594.6 L780.8,592.7 L781.6,590.7 L782.5,588.9 L783.4,587 L784.4,585.2 L785.5,583.4 L786.6,581.7 L787.8,580 L789,578.3 L790.3,576.7 L791.6,575.1 L793,573.5 L794.4,572 L795.8,570.5 L797.3,569 L798.8,567.6 L800.3,566.2 L801.9,564.8 L803.5,563.4 L805.1,562.1 L806.8,560.9 L808.6,559.6 L810.4,558.4 L812.3,557.2 L814.3,556 L816.4,554.8 L818.6,553.7 L820.9,552.5 L823.3,551.4 L825.7,550.3 L828.2,549.3 L830.7,548.2 L830.7,548.2 L827.8,548.3 L825,548.7 L822.3,549.3 L819.7,550 L817.1,550.8 L814.7,551.6 L812.3,552.5 L810,553.5 L807.8,554.5 L805.7,555.5 L803.7,556.6 L801.7,557.8 L799.8,559 L798,560.2 L796.1,561.5 L794.4,562.8 L792.6,564.2 L790.9,565.6 L789.2,567.1 L787.5,568.6 L785.9,570.2 L784.3,571.9 L782.7,573.6 L781.2,575.3 L779.8,577.1 L778.4,579 L777,581 L775.8,583 L774.6,585.1 L773.5,587.2 L772.5,589.3 L771.5,591.4 L770.6,593.6 L769.8,595.8 L769,598 L768.2,600.2 L767.5,602.5 L766.8,604.9 L766.2,607.4 L765.6,609.9 L765,612.4 L764.5,615 L764.1,617.5 L763.7,620.1 L763.3,622.7 L763,625.3 L762.7,627.9 L762.4,630.5 L762.2,633.2 L762,635.9 L761.9,638.6 L761.8,641.4 L761.7,644.1 L761.7,646.8 L761.7,649.5 L761.7,652.1 L761.7,654.8 L761.8,657.4 L761.9,660 L762,662.7 L762.1,665.4 L762.3,668 L762.5,670.7 L762.7,673.4 L763,676.1 L763.3,678.8 L763.6,681.4 L764,684 L764.3,686.5 L764.7,689.1 L765.1,691.7 L765.6,694.4 L766.1,697.1 L766.7,699.8 L767.5,702.6 L768.4,705.4 L769.4,708.2 L770.6,711 L771.9,713.7 L773.3,716.5 L774.9,719.2 L776.5,721.9 L778.3,724.6 L780.3,727.1 L782.7,729.5Z" fill="#ff00ff"/><path d="M1402.2,549 L1404.7,550.1 L1407.3,551.3 L1409.7,552.6 L1412.2,553.9 L1414.5,555.2 L1416.7,556.6 L1418.8,557.9 L1420.7,559.2 L1422.6,560.5 L1424.3,561.8 L1426,563.2 L1427.6,564.5 L1429.1,566 L1430.6,567.4 L1432,569 L1433.4,570.6 L1434.8,572.3 L1436.1,574.1 L1437.4,575.9 L1438.6,577.7 L1439.8,579.7 L1440.9,581.6 L1442,583.7 L1443.1,585.9 L1444.1,588.2 L1445.1,590.6 L1446.1,593.2 L1447.1,595.9 L1448,598.8 L1448.9,601.8 L1449.8,604.8 L1450.6,608 L1451.4,611.3 L1452.2,614.7 L1452.9,618.2 L1453.5,621.7 L1454.1,625.3 L1454.6,629 L1455.2,632.8 L1455.6,636.7 L1456,640.7 L1456.4,644.8 L1456.7,648.9 L1457,653 L1457.2,657.2 L1457.3,661.3 L1457.3,665.4 L1457.3,669.5 L1457.2,673.7 L1457.1,677.9 L1456.9,682.1 L1456.7,686.3 L1456.3,690.5 L1455.9,694.7 L1455.4,698.8 L1454.7,702.9 L1453.9,706.9 L1453,710.9 L1451.9,714.9 L1451.9,714.9 L1454.2,711.2 L1455.9,707.3 L1457.3,703.3 L1458.5,699.3 L1459.6,695.1 L1460.6,690.9 L1461.4,686.6 L1462,682.3 L1462.6,678 L1463.1,673.8 L1463.5,669.6 L1463.8,665.4 L1464,661.2 L1464.2,656.9 L1464.2,652.6 L1464.1,648.4 L1464,644.1 L1463.7,639.9 L1463.4,635.8 L1463,631.8 L1462.5,627.9 L1462,624.1 L1461.4,620.3 L1460.7,616.7 L1459.9,613.1 L1459.1,609.6 L1458.2,606.1 L1457.3,602.8 L1456.3,599.6 L1455.2,596.5 L1454.1,593.5 L1453,590.7 L1451.8,588 L1450.6,585.4 L1449.4,583 L1448.1,580.7 L1446.7,578.5 L1445.4,576.4 L1443.9,574.4 L1442.5,572.4 L1440.9,570.6 L1439.4,568.8 L1437.7,567 L1436,565.4 L1434.3,563.8 L1432.6,562.4 L1430.8,561 L1428.9,559.7 L1427,558.4 L1425,557.2 L1422.9,556.1 L1420.7,554.9 L1418.4,553.8 L1415.9,552.8 L1413.4,551.8 L1410.7,550.8 L1407.9,550 L1405.1,549.3 L1402.2,549Z" fill="#ff00ff"/><use href="#ph" transform="translate(1118.6,681)"/><g transform="translate(1118.6,681)" clip-path="url(#bodyclip)"><circle cx="-3.1" cy="97" r="335" fill="none" stroke="#e6eeee" stroke-opacity="0.6" stroke-width="7.5"/></g><circle cx="1115.5" cy="778" r="335" fill="none" stroke="#1c86d0" stroke-width="3.6"/></g><clipPath id="cp4"><rect x="1" y="932" width="746" height="357"/></clipPath><g clip-path="url(#cp4)"><path d="M60.8,1178 L59.7,1176.4 L58.3,1174.4 L56.6,1172 L54.7,1169.4 L52.6,1166.5 L50.5,1163.5 L48.4,1160.4 L46.4,1157.3 L44.6,1154.3 L43,1151.5 L41.6,1148.8 L40.2,1146 L38.8,1143.1 L37.6,1140.3 L36.4,1137.5 L35.2,1134.6 L34.2,1131.8 L33.2,1129 L32.4,1126.2 L31.6,1123.5 L31,1120.8 L30.4,1118.2 L30,1115.6 L29.7,1113 L29.5,1110.4 L29.3,1107.8 L29.2,1105.2 L29.1,1102.7 L28.9,1100.1 L28.8,1097.5 L28.7,1094.9 L28.6,1092.3 L28.5,1089.7 L28.5,1087.1 L28.4,1084.5 L28.4,1081.9 L28.5,1079.3 L28.5,1076.7 L28.5,1074.1 L28.6,1071.5 L28.7,1068.9 L28.7,1066.3 L28.8,1063.6 L28.9,1061 L29.1,1058.4 L29.2,1055.8 L29.4,1053.2 L29.6,1050.6 L29.8,1048 L30.1,1045.5 L30.4,1043 L30.7,1040.5 L31.1,1038 L31.4,1035.6 L31.8,1033.1 L32.2,1030.7 L32.7,1028.3 L33.2,1026 L33.7,1023.7 L34.3,1021.5 L34.9,1019.3 L35.5,1017.2 L36.2,1015.1 L36.8,1013.1 L37.6,1011.1 L38.3,1009.2 L39.1,1007.2 L40,1005.4 L40.9,1003.5 L41.9,1001.7 L43,999.9 L44.1,998.2 L45.3,996.5 L46.5,994.8 L47.8,993.2 L49.1,991.6 L50.5,990 L51.9,988.5 L53.3,987 L54.8,985.5 L56.3,984.1 L57.8,982.7 L59.4,981.3 L61,979.9 L62.6,978.6 L64.3,977.4 L66.1,976.1 L67.9,974.9 L69.8,973.7 L71.8,972.5 L71.8,972.5 L69.5,973.1 L67.3,974 L65.3,975 L63.3,976.1 L61.5,977.2 L59.6,978.3 L57.9,979.5 L56.1,980.8 L54.4,982.1 L52.7,983.4 L51.1,984.8 L49.5,986.2 L47.9,987.7 L46.3,989.2 L44.8,990.8 L43.3,992.4 L41.9,994.1 L40.5,995.8 L39.2,997.6 L37.9,999.4 L36.7,1001.3 L35.6,1003.3 L34.5,1005.2 L33.6,1007.2 L32.6,1009.3 L31.8,1011.4 L30.9,1013.5 L30.2,1015.6 L29.4,1017.8 L28.7,1020 L28,1022.3 L27.3,1024.7 L26.7,1027.1 L26.1,1029.6 L25.6,1032.1 L25.1,1034.6 L24.7,1037.1 L24.2,1039.6 L23.8,1042.2 L23.5,1044.8 L23.1,1047.4 L22.8,1050 L22.6,1052.7 L22.4,1055.3 L22.2,1058 L22,1060.7 L21.9,1063.4 L21.8,1066 L21.7,1068.7 L21.6,1071.3 L21.5,1074 L21.5,1076.6 L21.5,1079.2 L21.5,1081.9 L21.5,1084.5 L21.6,1087.2 L21.6,1089.9 L21.8,1092.5 L21.9,1095.2 L22.1,1097.8 L22.3,1100.4 L22.5,1103 L22.7,1105.6 L22.9,1108.2 L23.2,1110.9 L23.6,1113.6 L24,1116.4 L24.5,1119.2 L25.2,1122.1 L26,1124.9 L27,1127.8 L28,1130.7 L29.2,1133.6 L30.4,1136.5 L31.8,1139.3 L33.2,1142.2 L34.7,1145 L36.3,1147.9 L37.9,1150.6 L39.6,1153.3 L41.5,1156.2 L43.7,1159.1 L46,1162 L48.4,1164.9 L50.8,1167.8 L53.2,1170.4 L55.4,1172.9 L57.5,1175 L59.3,1176.7 L60.8,1178Z" fill="#ff00ff"/><path d="M681.8,978.3 L683.5,979.7 L685.1,981 L686.6,982.5 L688.1,983.9 L689.5,985.5 L690.9,987.1 L692.3,988.8 L693.6,990.6 L694.9,992.4 L696.1,994.2 L697.3,996.2 L698.5,998.1 L699.5,1000.2 L700.6,1002.4 L701.6,1004.7 L702.6,1007.1 L703.6,1009.7 L704.6,1012.4 L705.5,1015.3 L706.4,1018.3 L707.3,1021.3 L708.1,1024.5 L708.9,1027.8 L709.7,1031.2 L710.4,1034.7 L711,1038.2 L711.6,1041.8 L712.1,1045.5 L712.7,1049.3 L713.1,1053.2 L713.5,1057.2 L713.9,1061.3 L714.2,1065.4 L714.5,1069.5 L714.7,1073.7 L714.8,1077.8 L714.8,1081.9 L714.8,1086 L714.7,1090.2 L714.6,1094.4 L714.4,1098.6 L714.2,1102.8 L713.8,1107 L713.4,1111.2 L712.9,1115.3 L712.2,1119.4 L711.4,1123.4 L710.5,1127.4 L709.4,1131.4 L708.2,1135.5 L706.9,1139.5 L705.5,1143.5 L704,1147.3 L702.5,1151.1 L700.9,1154.7 L699.2,1158.2 L697.5,1161.5 L695.6,1164.7 L693.5,1167.8 L691.2,1170.9 L688.8,1173.8 L686.4,1176.6 L684.1,1179.2 L681.9,1181.5 L681.9,1181.5 L684.7,1179.7 L687.4,1177.5 L690.2,1175 L693,1172.3 L695.7,1169.4 L698.2,1166.3 L700.5,1163.1 L702.5,1159.9 L704.5,1156.4 L706.5,1152.8 L708.3,1149 L710.1,1145.1 L711.8,1141.1 L713.4,1137.1 L714.8,1133 L716.1,1128.8 L717.3,1124.7 L718.3,1120.5 L719.2,1116.2 L719.9,1111.9 L720.4,1107.6 L720.9,1103.2 L721.2,1098.9 L721.5,1094.6 L721.7,1090.3 L721.8,1086.1 L721.8,1081.9 L721.8,1077.7 L721.6,1073.4 L721.4,1069.2 L721.1,1064.9 L720.7,1060.7 L720.3,1056.5 L719.7,1052.5 L719.1,1048.5 L718.5,1044.6 L717.8,1040.8 L717,1037.2 L716.2,1033.6 L715.3,1030 L714.4,1026.6 L713.4,1023.2 L712.3,1020 L711.3,1016.8 L710.1,1013.8 L709,1010.9 L707.8,1008.2 L706.6,1005.6 L705.4,1003.1 L704.1,1000.8 L702.8,998.6 L701.5,996.5 L700.1,994.5 L698.7,992.6 L697.2,990.8 L695.7,989.1 L694.2,987.4 L692.5,985.7 L690.9,984.2 L689.2,982.8 L687.5,981.5 L685.8,980.3 L683.9,979.2 L681.8,978.3Z" fill="#ff00ff"/><path d="M51.9,988.5 L53.3,987 L54.8,985.5 L56.3,984.1 L57.8,982.7 L59.4,981.3 L61,979.9 L62.6,978.6 L64.3,977.4 L66.1,976.1 L67.9,974.9 L69.8,973.7 L71.8,972.5 L73.9,971.3 L76.1,970.2 L78.4,969 L80.8,967.9 L83.2,966.8 L85.7,965.8 L88.2,964.7 L90.7,963.8 L93.3,962.9 L95.8,962 L98.3,961.2 L100.9,960.4 L103.6,959.7 L106.3,959.1 L108.9,958.5 L111.6,957.9 L114.3,957.3 L116.9,956.9 L119.5,956.4 L122.1,956 L124.6,955.6 L127.1,955.3 L129.6,955.1 L132,954.8 L134.4,954.6 L136.8,954.5 L139.2,954.4 L141.6,954.3 L143.9,954.3 L146.2,954.3 L148.5,954.3 L150.8,954.4 L153,954.5 L155.3,954.7 L157.5,954.9 L159.7,955.1 L161.8,955.4 L163.9,955.7 L165.9,956 L167.8,956.3 L169.6,956.7 L171.4,957.1 L173.1,957.5 L174.8,958 L176.4,958.5 L178,959 L179.5,959.5 L180.9,960 L182.4,960.5 L183.8,961 L185.2,961.5 L186.5,962 L187.8,962.6 L189,963.1 L190.2,963.6 L191.3,964.2 L192.5,964.7 L193.6,965.2 L194.7,965.6 L195.8,966 L196.9,966.4 L197.9,966.7 L198.8,967 L199.8,967.3 L200.7,967.5 L201.6,967.7 L202.6,967.9 L203.6,968.1 L204.6,968.2 L205.8,968.3 L207,968.4 L208.1,968.4 L209.2,968.4 L210.3,968.4 L211.6,968.3 L212.9,968.3 L214.3,968.1 L215.9,968 L217.7,967.8 L219.8,967.5 L222.1,967.2 L224.6,966.9 L227.3,966.5 L230.2,966 L233.2,965.6 L236.3,965.1 L239.6,964.5 L242.9,963.9 L246.3,963.3 L249.8,962.7 L253.4,962 L257.2,961.2 L261.1,960.4 L265.1,959.6 L269.2,958.7 L273.3,957.8 L277.5,956.9 L281.6,956.1 L285.8,955.2 L289.8,954.5 L293.8,953.8 L297.8,953.1 L301.7,952.4 L305.7,951.8 L309.7,951.1 L313.7,950.5 L317.7,950 L321.7,949.4 L325.7,949 L329.8,948.5 L333.9,948.1 L338.1,947.7 L342.2,947.3 L346.4,947 L350.6,946.7 L354.8,946.4 L359.1,946.2 L363.3,946 L367.6,945.9 L371.8,945.9 L376.1,945.9 L380.3,946 L384.6,946.2 L388.8,946.4 L393.1,946.7 L397.4,947 L401.7,947.3 L406.1,947.7 L410.4,948.1 L414.8,948.5 L419.2,949 L423.8,949.4 L428.3,950 L432.9,950.5 L437.5,951.1 L442.1,951.8 L446.6,952.4 L451.1,953.1 L455.5,953.8 L459.8,954.5 L464.1,955.3 L468.4,956.1 L472.7,957 L476.9,957.9 L481.1,958.8 L485.2,959.7 L489.1,960.6 L492.9,961.5 L496.5,962.3 L499.8,963 L502.9,963.7 L505.8,964.3 L508.4,964.9 L510.9,965.5 L513.3,966 L515.5,966.5 L517.7,966.9 L519.8,967.3 L521.8,967.7 L523.8,968 L525.7,968.3 L527.5,968.5 L529.2,968.6 L530.8,968.7 L532.3,968.8 L533.8,968.8 L535.2,968.8 L536.7,968.7 L538.2,968.6 L539.8,968.5 L541.4,968.3 L542.9,968.1 L544.4,967.8 L545.9,967.5 L547.4,967.1 L548.9,966.7 L550.6,966.3 L552.3,965.8 L554.1,965.3 L556,964.8 L558.1,964.2 L560.3,963.5 L562.6,962.7 L565,961.9 L567.5,961.1 L570,960.2 L572.5,959.4 L575.1,958.7 L577.6,958 L580,957.5 L582.4,957 L584.8,956.6 L587.2,956.3 L589.6,956 L592,955.7 L594.5,955.5 L596.9,955.4 L599.3,955.2 L601.7,955.2 L604.1,955.1 L606.5,955.1 L608.9,955.1 L611.3,955.2 L613.7,955.3 L616.1,955.5 L618.5,955.6 L620.9,955.9 L623.3,956.1 L625.7,956.5 L628.1,956.8 L630.5,957.2 L632.9,957.6 L635.3,958 L637.7,958.5 L640.1,959 L642.6,959.5 L645,960.1 L647.4,960.8 L649.8,961.6 L652.2,962.4 L654.6,963.3 L657.1,964.4 L659.7,965.5 L662.2,966.6 L664.8,967.8 L667.2,969.1 L669.7,970.4 L672,971.7 L674.2,973.1 L676.3,974.4 L678.2,975.7 L680.1,977 L681.8,978.3 L683.5,979.7 L685.1,981 L686.6,982.5 L688.1,983.9 L689.5,985.5 L690.9,987.1 L692.3,988.8 L694.3,987.2 L692.8,985.5 L691.4,983.8 L689.9,982.2 L688.4,980.7 L686.8,979.2 L685.1,977.8 L683.4,976.4 L681.6,975 L679.7,973.7 L677.7,972.3 L675.5,970.9 L673.3,969.6 L670.9,968.2 L668.4,966.9 L665.9,965.6 L663.3,964.4 L660.7,963.2 L658.1,962 L655.6,961 L653.1,960.1 L650.6,959.2 L648.1,958.4 L645.6,957.7 L643.1,957.1 L640.7,956.5 L638.2,956 L635.8,955.5 L633.3,955.1 L630.9,954.7 L628.5,954.3 L626,954 L623.6,953.7 L621.2,953.4 L618.7,953.2 L616.3,953 L613.8,952.8 L611.4,952.7 L609,952.6 L606.5,952.6 L604.1,952.6 L601.6,952.7 L599.2,952.7 L596.7,952.9 L594.3,953 L591.8,953.2 L589.4,953.5 L586.9,953.8 L584.4,954.2 L582,954.6 L579.5,955.1 L577,955.6 L574.4,956.3 L571.8,957.1 L569.3,957.9 L566.7,958.7 L564.2,959.5 L561.8,960.4 L559.5,961.1 L557.4,961.8 L555.3,962.4 L553.4,962.9 L551.6,963.4 L549.9,963.9 L548.3,964.3 L546.8,964.7 L545.3,965.1 L543.9,965.4 L542.5,965.6 L541,965.8 L539.5,966 L538,966.1 L536.6,966.2 L535.2,966.3 L533.8,966.3 L532.4,966.3 L530.9,966.2 L529.4,966.1 L527.8,966 L526,965.8 L524.1,965.5 L522.2,965.2 L520.2,964.9 L518.2,964.5 L516.1,964 L513.8,963.6 L511.5,963 L509,962.5 L506.3,961.9 L503.4,961.2 L500.3,960.6 L497,959.8 L493.5,959 L489.7,958.2 L485.7,957.3 L481.7,956.4 L477.5,955.4 L473.2,954.5 L468.9,953.6 L464.5,952.8 L460.2,952 L455.9,951.3 L451.5,950.6 L447,949.9 L442.4,949.3 L437.8,948.7 L433.2,948.1 L428.6,947.5 L424,947 L419.5,946.5 L415,946 L410.6,945.6 L406.3,945.2 L401.9,944.8 L397.6,944.5 L393.3,944.2 L389,943.9 L384.7,943.7 L380.4,943.5 L376.1,943.4 L371.8,943.4 L367.5,943.4 L363.2,943.5 L359,943.7 L354.7,943.9 L350.4,944.2 L346.2,944.5 L342,944.8 L337.8,945.2 L333.7,945.6 L329.5,946 L325.4,946.5 L321.4,947 L317.3,947.5 L313.3,948.1 L309.3,948.7 L305.3,949.3 L301.3,950 L297.3,950.6 L293.4,951.3 L289.4,952 L285.3,952.8 L281.1,953.6 L277,954.5 L272.8,955.3 L268.6,956.2 L264.6,957.1 L260.5,958 L256.7,958.8 L252.9,959.6 L249.3,960.2 L245.9,960.9 L242.5,961.5 L239.1,962.1 L235.9,962.6 L232.8,963.1 L229.8,963.6 L226.9,964 L224.3,964.4 L221.8,964.7 L219.5,965 L217.4,965.3 L215.6,965.5 L214.1,965.6 L212.7,965.8 L211.4,965.8 L210.3,965.9 L209.2,965.9 L208.1,965.9 L207.1,965.9 L206,965.8 L204.9,965.7 L203.9,965.6 L203,965.5 L202.1,965.3 L201.3,965.1 L200.4,964.9 L199.6,964.6 L198.6,964.3 L197.6,964 L196.6,963.6 L195.6,963.3 L194.5,962.9 L193.5,962.4 L192.4,961.9 L191.2,961.4 L190,960.8 L188.8,960.3 L187.4,959.7 L186.1,959.2 L184.6,958.6 L183.2,958.1 L181.8,957.6 L180.3,957.1 L178.7,956.6 L177.2,956.1 L175.5,955.6 L173.8,955.1 L172,954.6 L170.2,954.2 L168.2,953.8 L166.3,953.5 L164.2,953.2 L162.1,952.9 L160,952.6 L157.7,952.4 L155.5,952.2 L153.2,952 L150.9,951.9 L148.6,951.8 L146.2,951.8 L143.9,951.8 L141.5,951.8 L139.1,951.9 L136.7,952 L134.3,952.2 L131.8,952.3 L129.3,952.6 L126.8,952.8 L124.3,953.2 L121.7,953.5 L119.1,953.9 L116.5,954.4 L113.8,954.9 L111.1,955.4 L108.4,956 L105.7,956.6 L103,957.3 L100.3,958 L97.6,958.8 L95,959.6 L92.4,960.5 L89.9,961.4 L87.3,962.4 L84.7,963.4 L82.2,964.5 L79.7,965.6 L77.3,966.8 L75,967.9 L72.7,969.1 L70.6,970.3 L68.5,971.6 L66.5,972.8 L64.6,974.1 L62.8,975.3 L61.1,976.7 L59.4,978 L57.7,979.4 L56.2,980.8 L54.6,982.2 L53.1,983.7 L51.5,985.2 L50.1,986.7Z" fill="#33ee33"/><use href="#ph" transform="translate(376.1,1097.5)"/><g transform="translate(376.1,1097.5)" clip-path="url(#bodyclip)"><circle cx="-3.6" cy="173" r="313" fill="none" stroke="#e6eeee" stroke-opacity="0.6" stroke-width="7.5"/></g><circle cx="372.5" cy="1270.5" r="313" fill="none" stroke="#c2243f" stroke-width="3.6"/></g><clipPath id="cp5"><rect x="749" y="927" width="746" height="363"/></clipPath><g clip-path="url(#cp5)"><path d="M786,1149.4 L784.2,1146.4 L782.6,1143.6 L781.2,1140.9 L779.8,1138.1 L778.4,1135.2 L777.2,1132.4 L776,1129.6 L774.8,1126.7 L773.8,1123.9 L772.8,1121.1 L772,1118.3 L771.2,1115.6 L770.6,1112.9 L770,1110.3 L769.6,1107.7 L769.3,1105.1 L769.1,1102.5 L768.9,1099.9 L768.8,1097.3 L768.7,1094.8 L768.5,1092.2 L768.4,1089.6 L768.3,1087 L768.2,1084.4 L768.1,1081.8 L768.1,1079.2 L768,1076.6 L768,1074 L768.1,1071.4 L768.1,1068.8 L768.1,1066.2 L768.2,1063.6 L768.3,1061 L768.3,1058.4 L768.4,1055.7 L768.5,1053.1 L768.7,1050.5 L768.8,1047.9 L769,1045.3 L769.2,1042.7 L769.4,1040.1 L769.7,1037.6 L770,1035.1 L770.3,1032.6 L770.7,1030.1 L771,1027.7 L771.4,1025.2 L771.8,1022.8 L772.3,1020.4 L772.8,1018.1 L773.3,1015.8 L773.9,1013.6 L774.5,1011.4 L775.1,1009.3 L775.8,1007.2 L776.4,1005.2 L777.2,1003.2 L777.9,1001.3 L778.7,999.3 L779.6,997.5 L780.5,995.6 L781.5,993.8 L782.6,992 L783.7,990.3 L784.9,988.6 L786.1,986.9 L787.4,985.3 L788.7,983.7 L790.1,982.1 L791.5,980.6 L792.9,979.1 L794.4,977.6 L795.9,976.2 L797.4,974.8 L799,973.4 L800.6,972 L802.2,970.7 L803.9,969.5 L805.7,968.2 L807.5,967 L809.4,965.8 L811.4,964.6 L813.5,963.4 L815.7,962.3 L818,961.1 L820.4,960 L822.8,958.9 L825.3,957.9 L827.8,956.8 L830.3,955.9 L830.3,955.9 L827.6,956.2 L824.9,956.8 L822.2,957.5 L819.6,958.3 L817.1,959.2 L814.6,960.1 L812.2,961.1 L809.9,962.1 L807.8,963.1 L805.7,964.2 L803.6,965.3 L801.7,966.5 L799.8,967.7 L798,968.9 L796.2,970.2 L794.5,971.5 L792.8,972.9 L791.1,974.3 L789.5,975.7 L787.9,977.2 L786.3,978.7 L784.7,980.3 L783.2,981.9 L781.8,983.6 L780.3,985.4 L779,987.1 L777.7,989 L776.4,990.9 L775.2,992.9 L774.1,994.9 L773.1,996.9 L772.2,998.9 L771.3,1001 L770.4,1003.1 L769.6,1005.3 L768.9,1007.4 L768.2,1009.6 L767.5,1011.9 L766.8,1014.2 L766.2,1016.6 L765.6,1019.1 L765.1,1021.6 L764.6,1024.1 L764.2,1026.6 L763.8,1029.1 L763.4,1031.7 L763.1,1034.2 L762.7,1036.8 L762.5,1039.4 L762.2,1042.1 L762,1044.7 L761.9,1047.4 L761.7,1050.1 L761.6,1052.8 L761.6,1055.5 L761.5,1058.1 L761.5,1060.8 L761.5,1063.4 L761.5,1066.1 L761.5,1068.7 L761.5,1071.3 L761.6,1074 L761.6,1076.6 L761.8,1079.3 L761.9,1081.9 L762.1,1084.6 L762.3,1087.3 L762.6,1089.9 L762.8,1092.5 L763.1,1095 L763.3,1097.6 L763.6,1100.2 L763.9,1102.9 L764.3,1105.6 L764.8,1108.3 L765.4,1111.1 L766.2,1113.9 L767,1116.7 L768.1,1119.5 L769.2,1122.3 L770.4,1125.1 L771.7,1127.9 L773.1,1130.7 L774.6,1133.5 L776.2,1136.3 L777.9,1139 L779.6,1141.6 L781.4,1144.2 L783.5,1146.9 L786,1149.4Z" fill="#ff00ff"/><path d="M1401.8,958.7 L1404.4,959.9 L1406.8,961.2 L1409.3,962.5 L1411.6,963.8 L1413.8,965.2 L1415.9,966.5 L1417.8,967.8 L1419.7,969.1 L1421.4,970.4 L1423.1,971.8 L1424.7,973.1 L1426.2,974.6 L1427.7,976 L1429.1,977.6 L1430.5,979.2 L1431.9,980.9 L1433.2,982.7 L1434.5,984.5 L1435.7,986.3 L1436.9,988.3 L1438.1,990.2 L1439.1,992.3 L1440.2,994.5 L1441.2,996.8 L1442.2,999.2 L1443.2,1001.8 L1444.2,1004.5 L1445.1,1007.4 L1446,1010.4 L1446.9,1013.4 L1447.7,1016.6 L1448.5,1019.9 L1449.3,1023.3 L1450,1026.8 L1450.6,1030.3 L1451.2,1033.9 L1451.7,1037.6 L1452.3,1041.4 L1452.7,1045.3 L1453.1,1049.3 L1453.5,1053.4 L1453.8,1057.5 L1454.1,1061.6 L1454.3,1065.8 L1454.4,1069.9 L1454.4,1074 L1454.4,1078.1 L1454.3,1082.3 L1454.2,1086.5 L1454,1090.7 L1453.8,1094.9 L1453.4,1099.1 L1453,1103.3 L1452.5,1107.4 L1451.8,1111.5 L1451,1115.5 L1450.1,1119.5 L1449,1123.5 L1447.8,1127.6 L1446.5,1131.6 L1445.1,1135.6 L1443.6,1139.4 L1442.1,1143.2 L1440.5,1146.8 L1438.8,1150.3 L1437.1,1153.6 L1435.2,1156.8 L1435.2,1156.8 L1437.9,1154 L1440.1,1151 L1442.2,1147.7 L1444.3,1144.1 L1446.2,1140.5 L1448.1,1136.7 L1449.9,1132.7 L1451.6,1128.7 L1453.1,1124.7 L1454.5,1120.6 L1455.7,1116.5 L1456.8,1112.4 L1457.7,1108.2 L1458.5,1103.9 L1459.2,1099.6 L1459.7,1095.3 L1460.2,1091 L1460.5,1086.7 L1460.8,1082.4 L1461,1078.2 L1461.1,1074 L1461.2,1069.8 L1461.1,1065.5 L1461,1061.3 L1460.8,1057 L1460.5,1052.8 L1460.1,1048.6 L1459.7,1044.5 L1459.2,1040.5 L1458.6,1036.6 L1458,1032.8 L1457.3,1029.1 L1456.6,1025.5 L1455.8,1021.9 L1454.9,1018.5 L1454,1015.1 L1453,1011.8 L1452,1008.6 L1450.9,1005.5 L1449.8,1002.6 L1448.7,999.8 L1447.5,997.1 L1446.3,994.6 L1445.1,992.2 L1443.8,989.9 L1442.5,987.8 L1441.2,985.7 L1439.8,983.7 L1438.4,981.8 L1436.9,980 L1435.4,978.2 L1433.8,976.5 L1432.1,974.9 L1430.5,973.3 L1428.8,971.9 L1427,970.5 L1425.2,969.2 L1423.4,968 L1421.4,966.7 L1419.4,965.6 L1417.3,964.4 L1415,963.3 L1412.6,962.2 L1410,961.1 L1407.4,960.2 L1404.7,959.3 L1401.8,958.7Z" fill="#ff00ff"/><path d="M803.9,969.5 L805.7,968.2 L807.5,967 L809.4,965.8 L811.4,964.6 L813.5,963.4 L815.7,962.3 L818,961.1 L820.4,960 L822.8,958.9 L825.3,957.9 L827.8,956.8 L830.3,955.9 L832.9,955 L835.4,954.1 L837.9,953.3 L840.5,952.5 L843.2,951.8 L845.9,951.2 L848.5,950.5 L851.2,950 L853.9,949.4 L856.5,949 L859.1,948.5 L861.7,948.1 L864.2,947.7 L866.7,947.4 L869.2,947.2 L871.6,946.9 L874,946.7 L876.4,946.6 L878.8,946.5 L881.2,946.4 L883.5,946.4 L885.8,946.4 L888.1,946.4 L890.4,946.5 L892.6,946.6 L894.9,946.8 L897.1,947 L899.3,947.2 L901.4,947.5 L903.5,947.8 L905.5,948.1 L907.4,948.4 L909.2,948.8 L911,949.2 L912.7,949.6 L914.4,950.1 L916,950.6 L917.6,951.1 L919.1,951.6 L920.5,952.1 L922,952.6 L923.4,953.1 L924.8,953.6 L926.1,954.1 L927.4,954.7 L928.6,955.2 L929.8,955.7 L930.9,956.3 L932.1,956.8 L933.2,957.3 L934.3,957.7 L935.4,958.1 L936.5,958.5 L937.5,958.8 L938.4,959.1 L939.4,959.4 L940.3,959.6 L941.2,959.8 L942.2,960 L943.2,960.2 L944.2,960.3 L945.4,960.4 L946.6,960.5 L947.7,960.5 L948.8,960.5 L949.9,960.5 L951.2,960.4 L952.5,960.4 L953.9,960.2 L955.5,960.1 L957.3,959.9 L959.4,959.6 L959.1,957.1 L957,957.4 L955.2,957.6 L953.7,957.7 L952.3,957.9 L951,957.9 L949.9,958 L948.8,958 L947.7,958 L946.7,958 L945.6,957.9 L944.5,957.8 L943.5,957.7 L942.6,957.6 L941.7,957.4 L940.9,957.2 L940,957 L939.2,956.7 L938.2,956.4 L937.2,956.1 L936.2,955.7 L935.2,955.4 L934.1,955 L933.1,954.5 L932,954 L930.8,953.5 L929.6,952.9 L928.4,952.4 L927,951.8 L925.7,951.3 L924.2,950.7 L922.8,950.2 L921.4,949.7 L919.9,949.2 L918.3,948.7 L916.8,948.2 L915.1,947.7 L913.4,947.2 L911.6,946.7 L909.8,946.3 L907.8,945.9 L905.9,945.6 L903.8,945.3 L901.7,945 L899.6,944.7 L897.3,944.5 L895.1,944.3 L892.8,944.1 L890.5,944 L888.2,943.9 L885.8,943.9 L883.5,943.9 L881.1,943.9 L878.7,944 L876.3,944.1 L873.9,944.3 L871.4,944.4 L868.9,944.7 L866.4,944.9 L863.9,945.3 L861.3,945.6 L858.7,946 L856.1,946.5 L853.4,947 L850.7,947.5 L848,948.1 L845.3,948.7 L842.6,949.4 L839.9,950.1 L837.2,950.9 L834.6,951.7 L832,952.6 L829.5,953.5 L826.9,954.5 L824.3,955.5 L821.8,956.6 L819.3,957.7 L816.9,958.9 L814.6,960 L812.3,961.2 L810.2,962.4 L808.1,963.7 L806.1,964.9 L804.2,966.2 L802.4,967.4Z" fill="#33ee33"/><path d="M1270.4,960.8 L1271.9,960.9 L1273.4,960.9 L1274.8,960.9 L1276.3,960.8 L1277.8,960.7 L1279.4,960.6 L1281,960.4 L1282.5,960.2 L1284,959.9 L1285.5,959.6 L1287,959.2 L1288.5,958.8 L1290.2,958.4 L1291.9,957.9 L1293.7,957.4 L1295.6,956.9 L1297.7,956.3 L1299.9,955.6 L1302.2,954.8 L1304.6,954 L1307.1,953.2 L1309.6,952.3 L1312.1,951.5 L1314.7,950.8 L1317.2,950.1 L1319.6,949.6 L1322,949.1 L1324.4,948.7 L1326.8,948.4 L1329.2,948.1 L1331.7,947.8 L1334.1,947.6 L1336.5,947.5 L1338.9,947.3 L1341.3,947.3 L1343.7,947.2 L1346.1,947.2 L1348.5,947.2 L1350.9,947.3 L1353.3,947.4 L1355.7,947.5 L1358.1,947.7 L1360.5,948 L1362.9,948.2 L1365.3,948.6 L1367.7,948.9 L1370.1,949.3 L1372.5,949.7 L1374.9,950.1 L1377.3,950.6 L1379.7,951.1 L1382.2,951.6 L1384.6,952.2 L1387,952.9 L1389.4,953.7 L1391.8,954.5 L1394.2,955.4 L1396.7,956.5 L1399.3,957.6 L1401.8,958.7 L1404.4,959.9 L1406.8,961.2 L1409.3,962.5 L1411.6,963.8 L1413.8,965.2 L1415.9,966.5 L1417.8,967.8 L1419.7,969.1 L1421.1,967.1 L1419.3,965.8 L1417.3,964.4 L1415.1,963 L1412.9,961.7 L1410.5,960.3 L1408,959 L1405.5,957.7 L1402.9,956.5 L1400.3,955.3 L1397.7,954.1 L1395.2,953.1 L1392.7,952.2 L1390.2,951.3 L1387.7,950.5 L1385.2,949.8 L1382.7,949.2 L1380.3,948.6 L1377.8,948.1 L1375.4,947.6 L1372.9,947.2 L1370.5,946.8 L1368.1,946.4 L1365.6,946.1 L1363.2,945.8 L1360.8,945.5 L1358.3,945.3 L1355.9,945.1 L1353.4,944.9 L1351,944.8 L1348.6,944.7 L1346.1,944.7 L1343.7,944.7 L1341.2,944.8 L1338.8,944.8 L1336.3,945 L1333.9,945.1 L1331.4,945.3 L1329,945.6 L1326.5,945.9 L1324,946.3 L1321.6,946.7 L1319.1,947.2 L1316.6,947.7 L1314,948.4 L1311.4,949.2 L1308.9,950 L1306.3,950.8 L1303.8,951.6 L1301.4,952.5 L1299.1,953.2 L1297,953.9 L1294.9,954.5 L1293,955 L1291.2,955.5 L1289.5,956 L1287.9,956.4 L1286.4,956.8 L1284.9,957.2 L1283.5,957.5 L1282.1,957.7 L1280.6,957.9 L1279.1,958.1 L1277.6,958.2 L1276.2,958.3 L1274.8,958.4 L1273.4,958.4 L1272,958.4 L1270.5,958.3Z" fill="#33ee33"/><use href="#ph" transform="translate(1115.7,1089.6)"/><g transform="translate(1115.7,1089.6)" clip-path="url(#bodyclip)"><circle cx="-2.7" cy="177.1" r="335" fill="none" stroke="#e6eeee" stroke-opacity="0.6" stroke-width="7.5"/></g><circle cx="1113" cy="1266.7" r="335" fill="none" stroke="#1c86d0" stroke-width="3.6"/></g><rect x="800" y="1284" width="5" height="5" fill="#fff"/><rect x="1423" y="1284" width="5" height="5" fill="#fff"/><text x="20.40" y="65.20" fill="#fff" font-size="64.93" textLength="40.53" lengthAdjust="spacingAndGlyphs">A</text><text x="336.24" y="72.50" fill="#fff" font-size="64.49" textLength="73.63" lengthAdjust="spacingAndGlyphs">CT</text><text x="882.07" y="72.40" fill="#fff" font-size="64.35" textLength="479.56" lengthAdjust="spacingAndGlyphs">HyperSight CBCT</text><text x="7.84" y="157.30" fill="#f7df5e" font-size="55.51" font-weight="bold" textLength="32.87" lengthAdjust="spacingAndGlyphs">R</text><text x="707.82" y="156.90" fill="#f7df5e" font-size="54.35" font-weight="bold" textLength="25.15" lengthAdjust="spacingAndGlyphs">L</text><text x="19.28" y="465.60" fill="#fff" font-size="31.01" textLength="590.83" lengthAdjust="spacingAndGlyphs">Height = 0 cm, area outside sFoV = 51 cm</text><text x="614.07" y="451.70" fill="#fff" font-size="24.43" textLength="16.99" lengthAdjust="spacingAndGlyphs">2</text><text x="761.38" y="471.00" fill="#fff" font-size="31.01" textLength="590.73" lengthAdjust="spacingAndGlyphs">Height = 3 cm, area outside sFoV = 17 cm</text><text x="1360.87" y="453.90" fill="#fff" font-size="24.43" textLength="16.99" lengthAdjust="spacingAndGlyphs">2</text><text x="21.38" y="916.00" fill="#fff" font-size="31.01" textLength="589.82" lengthAdjust="spacingAndGlyphs">Height = 4 cm, area outside sFoV = 72 cm</text><text x="614.07" y="897.80" fill="#fff" font-size="24.43" textLength="16.99" lengthAdjust="spacingAndGlyphs">2</text><text x="762.47" y="911.00" fill="#fff" font-size="31.01" textLength="591.33" lengthAdjust="spacingAndGlyphs">Height = 7 cm, area outside sFoV = 36 cm</text><text x="1358.67" y="894.90" fill="#fff" font-size="24.43" textLength="16.99" lengthAdjust="spacingAndGlyphs">2</text><text x="23.48" y="1333.90" fill="#fff" font-size="31.01" textLength="625.70" lengthAdjust="spacingAndGlyphs">Height = 10 cm, area outside sFoV = 130 cm</text><text x="655.07" y="1316.70" fill="#fff" font-size="24.43" textLength="16.99" lengthAdjust="spacingAndGlyphs">2</text><text x="771.38" y="1331.00" fill="#fff" font-size="31.01" textLength="608.77" lengthAdjust="spacingAndGlyphs">Height = 13 cm, area outside sFoV = 90 cm</text><text x="1382.97" y="1312.80" fill="#fff" font-size="24.43" textLength="16.99" lengthAdjust="spacingAndGlyphs">2</text><text x="13.38" y="1458.50" fill="#000" font-size="65.07" textLength="38.53" lengthAdjust="spacingAndGlyphs">B</text><rect x="85" y="1445" width="639" height="734" fill="#fff" stroke="#6a6a6a" stroke-width="2.6"/><text x="78.98" y="2213.10" fill="#555" font-size="23.86" textLength="13.27" lengthAdjust="spacingAndGlyphs">0</text><text x="163.52" y="2213.10" fill="#555" font-size="23.86" textLength="26.54" lengthAdjust="spacingAndGlyphs">20</text><text x="255.10" y="2213.10" fill="#555" font-size="23.86" textLength="26.54" lengthAdjust="spacingAndGlyphs">40</text><text x="346.08" y="2213.10" fill="#555" font-size="23.86" textLength="26.54" lengthAdjust="spacingAndGlyphs">60</text><text x="437.42" y="2213.10" fill="#555" font-size="23.86" textLength="26.54" lengthAdjust="spacingAndGlyphs">80</text><text x="521.72" y="2213.10" fill="#555" font-size="23.86" textLength="39.81" lengthAdjust="spacingAndGlyphs">100</text><text x="613.00" y="2213.10" fill="#555" font-size="23.86" textLength="39.81" lengthAdjust="spacingAndGlyphs">120</text><text x="704.28" y="2213.10" fill="#555" font-size="23.86" textLength="39.81" lengthAdjust="spacingAndGlyphs">140</text><text x="45.76" y="2155.10" fill="#555" font-size="23.29" textLength="32.37" lengthAdjust="spacingAndGlyphs">0.8</text><text x="33.07" y="2081.49" fill="#555" font-size="23.29" textLength="45.32" lengthAdjust="spacingAndGlyphs">0.82</text><text x="32.61" y="2007.88" fill="#555" font-size="23.29" textLength="45.32" lengthAdjust="spacingAndGlyphs">0.84</text><text x="32.96" y="1934.26" fill="#555" font-size="23.29" textLength="45.32" lengthAdjust="spacingAndGlyphs">0.86</text><text x="32.84" y="1860.65" fill="#555" font-size="23.29" textLength="45.32" lengthAdjust="spacingAndGlyphs">0.88</text><text x="45.88" y="1787.04" fill="#555" font-size="23.29" textLength="32.37" lengthAdjust="spacingAndGlyphs">0.9</text><text x="33.07" y="1713.43" fill="#555" font-size="23.29" textLength="45.32" lengthAdjust="spacingAndGlyphs">0.92</text><text x="32.61" y="1639.82" fill="#555" font-size="23.29" textLength="45.32" lengthAdjust="spacingAndGlyphs">0.94</text><text x="32.96" y="1566.20" fill="#555" font-size="23.29" textLength="45.32" lengthAdjust="spacingAndGlyphs">0.96</text><text x="32.84" y="1492.59" fill="#555" font-size="23.29" textLength="45.32" lengthAdjust="spacingAndGlyphs">0.98</text><path d="M85,2179 v-5 M85,1445 v5 M176.3,2179 v-5 M176.3,1445 v5 M267.6,2179 v-5 M267.6,1445 v5 M358.8,2179 v-5 M358.8,1445 v5 M450.1,2179 v-5 M450.1,1445 v5 M541.4,2179 v-5 M541.4,1445 v5 M632.7,2179 v-5 M632.7,1445 v5 M724,2179 v-5 M724,1445 v5 M85,2145 h5 M724,2145 h-5 M85,2071.4 h5 M724,2071.4 h-5 M85,1997.8 h5 M724,1997.8 h-5 M85,1924.2 h5 M724,1924.2 h-5 M85,1850.6 h5 M724,1850.6 h-5 M85,1776.9 h5 M724,1776.9 h-5 M85,1703.3 h5 M724,1703.3 h-5 M85,1629.7 h5 M724,1629.7 h-5 M85,1556.1 h5 M724,1556.1 h-5 M85,1482.5 h5 M724,1482.5 h-5 " stroke="#666" stroke-width="2"/><text x="254.88" y="2248.90" fill="#444" font-size="21.74" textLength="274.48" lengthAdjust="spacingAndGlyphs">Volume outside sFoV (cm</text><text x="528.98" y="2240.30" fill="#444" font-size="15.29" textLength="9.17" lengthAdjust="spacingAndGlyphs">2</text><text x="542.45" y="2248.90" fill="#444" font-size="23.59" textLength="8.20" lengthAdjust="spacingAndGlyphs">)</text><text x="-1981.46" y="16.60" fill="#444" font-size="20.14" textLength="269.55" lengthAdjust="spacingAndGlyphs" transform="rotate(-90)">Jaccard Conformity Index</text><rect x="107.5" y="1461.5" width="330" height="138.5" fill="#fff" stroke="#555" stroke-width="2"/><path d="M136.6,1483.2 H178.3 M136.6,1483.2 m0,-9.5 v19.0 M178.3,1483.2 m0,-9.5 v19.0" stroke="#c9566a" stroke-width="2.2" fill="none"/><rect x="152" y="1476.7" width="10" height="13" fill="#fff" stroke="#c9566a" stroke-width="1.8"/><path d="M152,1483.2 h10" stroke="#c9566a" stroke-width="1.5"/><text x="192.5" y="1490.7" fill="#404040" font-size="21" font-family="Liberation Sans, sans-serif" textLength="130" lengthAdjust="spacingAndGlyphs">Right-side, CT</text><path d="M136.6,1514.7 H178.3 M136.6,1514.7 m0,-9.5 v19.0 M178.3,1514.7 m0,-9.5 v19.0" stroke="#c9566a" stroke-width="2.2" fill="none"/><circle cx="157" cy="1514.7" r="7.5" fill="#a50f2d"/><text x="192.5" y="1522.2" fill="#404040" font-size="21" font-family="Liberation Sans, sans-serif" textLength="117.5" lengthAdjust="spacingAndGlyphs">Left-side, CT</text><path d="M136.6,1546.8 H178.3 M136.6,1546.8 m0,-9.5 v19.0 M178.3,1546.8 m0,-9.5 v19.0" stroke="#3f9ad8" stroke-width="2.2" fill="none"/><rect x="152" y="1540.3" width="10" height="13" fill="#fff" stroke="#3f9ad8" stroke-width="1.8"/><path d="M152,1546.8 h10" stroke="#3f9ad8" stroke-width="1.5"/><text x="192.5" y="1554.3" fill="#404040" font-size="21" font-family="Liberation Sans, sans-serif" textLength="212.5" lengthAdjust="spacingAndGlyphs">Right-side, HyperSight</text><path d="M136.6,1576.2 H178.3 M136.6,1576.2 m0,-9.5 v19.0 M178.3,1576.2 m0,-9.5 v19.0" stroke="#3f9ad8" stroke-width="2.2" fill="none"/><circle cx="157" cy="1576.2" r="7.5" fill="#0068c0"/><text x="192.5" y="1583.7" fill="#404040" font-size="21" font-family="Liberation Sans, sans-serif" textLength="200" lengthAdjust="spacingAndGlyphs">Left-side, HyperSight</text><path d="M645,1558.5 H717.5 M645,1558.5 m0,-7.5 v15.0 M717.5,1558.5 m0,-7.5 v15.0" stroke="#c9566a" stroke-width="2.2" fill="none"/><circle cx="681" cy="1558.5" r="7.5" fill="#a50f2d"/><path d="M619,1642.5 H692.5 M619,1642.5 m0,-7.5 v15.0 M692.5,1642.5 m0,-7.5 v15.0" stroke="#c9566a" stroke-width="2.2" fill="none"/><rect x="651" y="1636" width="10" height="13" fill="#fff" stroke="#c9566a" stroke-width="1.8"/><path d="M651,1642.5 h10" stroke="#c9566a" stroke-width="1.5"/><path d="M464,1643.5 H522.5 M464,1643.5 m0,-7.5 v15.0 M522.5,1643.5 m0,-7.5 v15.0" stroke="#3f9ad8" stroke-width="2.2" fill="none"/><circle cx="493.5" cy="1643.5" r="7.5" fill="#0068c0"/><path d="M517.5,1686.5 H580 M517.5,1686.5 m0,-7.5 v15.0 M580,1686.5 m0,-7.5 v15.0" stroke="#c9566a" stroke-width="2.2" fill="none"/><rect x="545" y="1680" width="10" height="13" fill="#fff" stroke="#c9566a" stroke-width="1.8"/><path d="M545,1686.5 h10" stroke="#c9566a" stroke-width="1.5"/><path d="M543,1686.5 H605 M543,1686.5 m0,-7.5 v15.0 M605,1686.5 m0,-7.5 v15.0" stroke="#c9566a" stroke-width="2.2" fill="none"/><circle cx="573.5" cy="1686.5" r="7.5" fill="#a50f2d"/><path d="M454,1701 H515 M454,1701 m0,-7.5 v15.0 M515,1701 m0,-7.5 v15.0" stroke="#c9566a" stroke-width="2.2" fill="none"/><circle cx="484" cy="1701" r="7.5" fill="#a50f2d"/><path d="M440,1728.5 H502.5 M440,1728.5 m0,-7.5 v15.0 M502.5,1728.5 m0,-7.5 v15.0" stroke="#3f9ad8" stroke-width="2.2" fill="none"/><rect x="467.5" y="1722" width="10" height="13" fill="#fff" stroke="#3f9ad8" stroke-width="1.8"/><path d="M467.5,1728.5 h10" stroke="#3f9ad8" stroke-width="1.5"/><path d="M384,1732.5 H439 M384,1732.5 m0,-7.5 v15.0 M439,1732.5 m0,-7.5 v15.0" stroke="#c9566a" stroke-width="2.2" fill="none"/><circle cx="411" cy="1732.5" r="7.5" fill="#a50f2d"/><path d="M267.5,1766.5 H318.5 M267.5,1766.5 m0,-7.5 v15.0 M318.5,1766.5 m0,-7.5 v15.0" stroke="#3f9ad8" stroke-width="2.2" fill="none"/><rect x="287" y="1760" width="10" height="13" fill="#fff" stroke="#3f9ad8" stroke-width="1.8"/><path d="M287,1766.5 h10" stroke="#3f9ad8" stroke-width="1.5"/><path d="M346.5,1771.5 H401.5 M346.5,1771.5 m0,-7.5 v15.0 M401.5,1771.5 m0,-7.5 v15.0" stroke="#3f9ad8" stroke-width="2.2" fill="none"/><rect x="369" y="1765" width="10" height="13" fill="#fff" stroke="#3f9ad8" stroke-width="1.8"/><path d="M369,1771.5 h10" stroke="#3f9ad8" stroke-width="1.5"/><path d="M369,1780 H424 M369,1780 m0,-7.5 v15.0 M424,1780 m0,-7.5 v15.0" stroke="#3f9ad8" stroke-width="2.2" fill="none"/><circle cx="395" cy="1780" r="7.5" fill="#0068c0"/><path d="M226,1820 H269 M226,1820 m0,-7.5 v15.0 M269,1820 m0,-7.5 v15.0" stroke="#3f9ad8" stroke-width="2.2" fill="none"/><circle cx="247" cy="1820" r="7.5" fill="#0068c0"/><path d="M287.5,1818.5 H338.5 M287.5,1818.5 m0,-7.5 v15.0 M338.5,1818.5 m0,-7.5 v15.0" stroke="#3f9ad8" stroke-width="2.2" fill="none"/><circle cx="312.5" cy="1818.5" r="7.5" fill="#0068c0"/><path d="M359,1823.5 H417.5 M359,1823.5 m0,-7.5 v15.0 M417.5,1823.5 m0,-7.5 v15.0" stroke="#c9566a" stroke-width="2.2" fill="none"/><rect x="384" y="1817" width="10" height="13" fill="#fff" stroke="#c9566a" stroke-width="1.8"/><path d="M384,1823.5 h10" stroke="#c9566a" stroke-width="1.5"/><path d="M430,1828.5 H492.5 M430,1828.5 m0,-7.5 v15.0 M492.5,1828.5 m0,-7.5 v15.0" stroke="#c9566a" stroke-width="2.2" fill="none"/><rect x="456" y="1822" width="10" height="13" fill="#fff" stroke="#c9566a" stroke-width="1.8"/><path d="M456,1828.5 h10" stroke="#c9566a" stroke-width="1.5"/><path d="M330,1864 H382.5 M330,1864 m0,-7.5 v15.0 M382.5,1864 m0,-7.5 v15.0" stroke="#c9566a" stroke-width="2.2" fill="none"/><circle cx="356" cy="1864" r="7.5" fill="#a50f2d"/><path d="M160,1912.5 H200 M160,1912.5 m0,-7.5 v15.0 M200,1912.5 m0,-7.5 v15.0" stroke="#3f9ad8" stroke-width="2.2" fill="none"/><rect x="176" y="1906" width="10" height="13" fill="#fff" stroke="#3f9ad8" stroke-width="1.8"/><path d="M176,1912.5 h10" stroke="#3f9ad8" stroke-width="1.5"/><path d="M206.5,1911.5 H251 M206.5,1911.5 m0,-7.5 v15.0 M251,1911.5 m0,-7.5 v15.0" stroke="#3f9ad8" stroke-width="2.2" fill="none"/><rect x="222.5" y="1905" width="10" height="13" fill="#fff" stroke="#3f9ad8" stroke-width="1.8"/><path d="M222.5,1911.5 h10" stroke="#3f9ad8" stroke-width="1.5"/><path d="M305,1919 H360 M305,1919 m0,-7.5 v15.0 M360,1919 m0,-7.5 v15.0" stroke="#c9566a" stroke-width="2.2" fill="none"/><rect x="329" y="1912.5" width="10" height="13" fill="#fff" stroke="#c9566a" stroke-width="1.8"/><path d="M329,1919 h10" stroke="#c9566a" stroke-width="1.5"/><path d="M292.5,1933.5 H345 M292.5,1933.5 m0,-7.5 v15.0 M345,1933.5 m0,-7.5 v15.0" stroke="#c9566a" stroke-width="2.2" fill="none"/><circle cx="320" cy="1933.5" r="7.5" fill="#a50f2d"/><path d="M268.5,1987.5 H323.5 M268.5,1987.5 m0,-7.5 v15.0 M323.5,1987.5 m0,-7.5 v15.0" stroke="#c9566a" stroke-width="2.2" fill="none"/><rect x="290" y="1981" width="10" height="13" fill="#fff" stroke="#c9566a" stroke-width="1.8"/><path d="M290,1987.5 h10" stroke="#c9566a" stroke-width="1.5"/><path d="M179,2008.5 H219 M179,2008.5 m0,-7.5 v15.0 M219,2008.5 m0,-7.5 v15.0" stroke="#3f9ad8" stroke-width="2.2" fill="none"/><circle cx="198.5" cy="2008.5" r="7.5" fill="#0068c0"/><path d="M146,2034 H183.5 M146,2034 m0,-7.5 v15.0 M183.5,2034 m0,-7.5 v15.0" stroke="#3f9ad8" stroke-width="2.2" fill="none"/><circle cx="165" cy="2034" r="7.5" fill="#0068c0"/><path d="M130,2155 H167.5 M130,2155 m0,-7.5 v15.0 M167.5,2155 m0,-7.5 v15.0" stroke="#3f9ad8" stroke-width="2.2" fill="none"/><rect x="143" y="2148.5" width="10" height="13" fill="#fff" stroke="#3f9ad8" stroke-width="1.8"/><path d="M143,2155 h10" stroke="#3f9ad8" stroke-width="1.5"/><text x="764.13" y="1465.50" fill="#000" font-size="64.14" textLength="38.63" lengthAdjust="spacingAndGlyphs">C</text><rect x="898" y="1451" width="573.5" height="733" fill="#fff" stroke="#8a8a8a" stroke-width="2.6"/><text x="870.90" y="2215.30" fill="#555" font-size="24.00" textLength="48.71" lengthAdjust="spacingAndGlyphs">-500</text><text x="947.11" y="2215.30" fill="#555" font-size="24.00" textLength="48.60" lengthAdjust="spacingAndGlyphs">-400</text><text x="1030.59" y="2215.30" fill="#555" font-size="24.00" textLength="49.44" lengthAdjust="spacingAndGlyphs">-300</text><text x="1111.72" y="2215.30" fill="#555" font-size="25.29" textLength="47.87" lengthAdjust="spacingAndGlyphs">-200</text><text x="1196.81" y="2217.70" fill="#555" font-size="25.29" textLength="48.60" lengthAdjust="spacingAndGlyphs">-100</text><text x="1298.61" y="2215.30" fill="#555" font-size="25.29" textLength="15.10" lengthAdjust="spacingAndGlyphs">0</text><text x="1369.75" y="2215.30" fill="#555" font-size="25.29" textLength="38.86" lengthAdjust="spacingAndGlyphs">100</text><text x="1450.50" y="2212.90" fill="#555" font-size="25.29" textLength="39.94" lengthAdjust="spacingAndGlyphs">200</text><text x="830.12" y="1510.50" fill="#555" font-size="25.07" textLength="54.98" lengthAdjust="spacingAndGlyphs">Lung</text><text x="799.58" y="1614.00" fill="#555" font-size="25.65" textLength="87.79" lengthAdjust="spacingAndGlyphs">Adipose</text><text x="847.56" y="1722.90" fill="#555" font-size="25.86" textLength="37.28" lengthAdjust="spacingAndGlyphs">SW</text><text x="831.74" y="1827.20" fill="#555" font-size="25.65" textLength="52.99" lengthAdjust="spacingAndGlyphs">Liver</text><text x="809.05" y="1930.50" fill="#555" font-size="25.07" textLength="73.74" lengthAdjust="spacingAndGlyphs">InnerB</text><text x="823.36" y="2038.00" fill="#555" font-size="26.43" textLength="57.09" lengthAdjust="spacingAndGlyphs">CB30</text><text x="815.27" y="2138.90" fill="#555" font-size="25.14" textLength="62.68" lengthAdjust="spacingAndGlyphs">CortB</text><path d="M898.2,2184 v-5 M898.2,1451 v5 M980.2,2184 v-5 M980.2,1451 v5 M1062.2,2184 v-5 M1062.2,1451 v5 M1144.1,2184 v-5 M1144.1,1451 v5 M1226,2184 v-5 M1226,1451 v5 M1308,2184 v-5 M1308,1451 v5 M1390,2184 v-5 M1390,1451 v5 M1471.9,2184 v-5 M1471.9,1451 v5 M898,1502.5 h5 M1471.5,1502.5 h-5 M898,1607.5 h5 M1471.5,1607.5 h-5 M898,1714 h5 M1471.5,1714 h-5 M898,1819 h5 M1471.5,1819 h-5 M898,1922.5 h5 M1471.5,1922.5 h-5 M898,2029 h5 M1471.5,2029 h-5 M898,2134 h5 M1471.5,2134 h-5 " stroke="#777" stroke-width="2"/><text x="1125.31" y="2249.00" fill="#444" font-size="22.86" textLength="175.87" lengthAdjust="spacingAndGlyphs">CT number (HU)</text><path d="M1308,1451 L1310,2184" stroke="#888" stroke-width="1.2"/><rect x="1298.2" y="1476.5" width="9.8" height="16" fill="#a50f2d" stroke="#222" stroke-width="2"/><rect x="1308" y="1495" width="157.3" height="17.5" fill="url(#hr)"/><rect x="1308" y="1515" width="23.8" height="16.5" fill="#0068c0" stroke="#222" stroke-width="2"/><rect x="1291.6" y="1532.5" width="16.4" height="17.5" fill="url(#hb)"/><rect x="1281.8" y="1572.5" width="26.2" height="14" fill="#a50f2d" stroke="#222" stroke-width="2"/><rect x="1308" y="1589" width="52.4" height="18.5" fill="url(#hr)"/><rect x="1306.4" y="1610" width="1.6" height="15" fill="#0068c0" stroke="#222" stroke-width="2"/><rect x="1192.5" y="1626" width="115.5" height="18" fill="url(#hb)"/><rect x="1273.6" y="1672.5" width="34.4" height="16.5" fill="#a50f2d" stroke="#222" stroke-width="2"/><rect x="1308" y="1691.5" width="38.5" height="17" fill="url(#hr)"/><rect x="1291.6" y="1711.5" width="16.4" height="16" fill="#0068c0" stroke="#222" stroke-width="2"/><rect x="1188.4" y="1730" width="119.6" height="18.5" fill="url(#hb)"/><rect x="1273.6" y="1782.5" width="34.4" height="16.5" fill="#a50f2d" stroke="#222" stroke-width="2"/><rect x="1308" y="1801" width="24.6" height="18" fill="url(#hr)"/><rect x="1294.1" y="1820" width="13.9" height="16" fill="#0068c0" stroke="#222" stroke-width="2"/><rect x="1160.5" y="1837.5" width="147.5" height="18.5" fill="url(#hb)"/><rect x="1246.5" y="1882.5" width="61.5" height="16.5" fill="#a50f2d" stroke="#222" stroke-width="2"/><rect x="1262.9" y="1901" width="45.1" height="17.5" fill="url(#hr)"/><rect x="1255.6" y="1921" width="52.4" height="17.5" fill="#0068c0" stroke="#222" stroke-width="2"/><rect x="1117.9" y="1940" width="190.1" height="17.5" fill="url(#hb)"/><rect x="1224.4" y="1992.5" width="83.6" height="17.5" fill="#a50f2d" stroke="#222" stroke-width="2"/><rect x="1217.9" y="2011.5" width="90.1" height="17" fill="url(#hr)"/><rect x="1236.7" y="2030" width="71.3" height="16.5" fill="#0068c0" stroke="#222" stroke-width="2"/><rect x="1048.2" y="2048.5" width="259.8" height="18" fill="url(#hb)"/><rect x="1130.2" y="2095" width="177.8" height="16.5" fill="#a50f2d" stroke="#222" stroke-width="2"/><rect x="962.2" y="2112.5" width="345.8" height="19" fill="url(#hr)"/><rect x="1125.3" y="2134" width="182.7" height="15" fill="#0068c0" stroke="#222" stroke-width="2"/><rect x="920.4" y="2151" width="387.6" height="19" fill="url(#hb)"/><path d="M1466.5,1591 v12" stroke="#e8a0aa" stroke-width="1.5"/><rect x="909" y="1464" width="243" height="112.5" fill="#fff" stroke="#222" stroke-width="2"/><rect x="918" y="1478" width="54" height="19" fill="#a50f2d" stroke="#111" stroke-width="2"/><rect x="917" y="1502" width="56" height="18" fill="url(#hr)"/><rect x="918" y="1526" width="54" height="19" fill="#0068c0" stroke="#111" stroke-width="2"/><rect x="917" y="1551" width="56" height="18" fill="url(#hb)"/><text x="982" y="1494" fill="#333" font-size="21" font-family="Liberation Sans, sans-serif" textLength="147" lengthAdjust="spacingAndGlyphs">CT: pos2 – pos1</text><text x="982" y="1517.5" fill="#333" font-size="21" font-family="Liberation Sans, sans-serif" textLength="147" lengthAdjust="spacingAndGlyphs">CT: pos3 – pos1</text><text x="982" y="1542.5" fill="#333" font-size="21" font-family="Liberation Sans, sans-serif" textLength="161" lengthAdjust="spacingAndGlyphs">Hyp: pos2 – pos1</text><text x="982" y="1567.5" fill="#333" font-size="21" font-family="Liberation Sans, sans-serif" textLength="161" lengthAdjust="spacingAndGlyphs">Hyp: pos3 – pos1</text>
</svg>
</body></html>
